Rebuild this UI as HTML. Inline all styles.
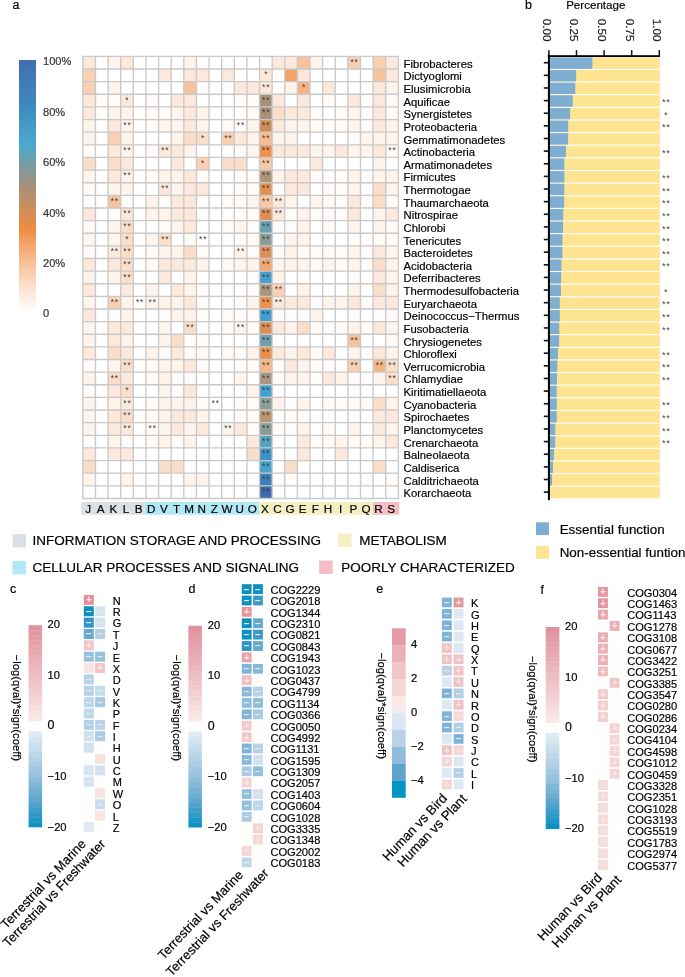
<!DOCTYPE html>
<html lang="en"><head><meta charset="utf-8"><title>Figure</title>
<style>html,body{margin:0;padding:0;background:#fff}svg{display:block}text{font-family:"Liberation Sans", Arial, Helvetica, sans-serif}</style></head><body>
<svg width="685" height="977" viewBox="0 0 685 977">
<rect x="0.00" y="0.00" width="685.00" height="977.00" fill="#ffffff"/>
<text x="12.50" y="9.40" font-size="12.5" fill="#000" stroke="#000" stroke-width="0.18" text-anchor="start">a</text>
<defs><linearGradient id="ga" x1="0" y1="1" x2="0" y2="0"><stop offset="0" stop-color="#ffffff"/><stop offset="0.16" stop-color="#f9cdac"/><stop offset="0.33" stop-color="#f08c42"/><stop offset="0.50" stop-color="#a69078"/><stop offset="0.665" stop-color="#4aa9d0"/><stop offset="0.82" stop-color="#3f89bf"/><stop offset="1" stop-color="#416eb0"/></linearGradient></defs>
<rect x="19.00" y="60.00" width="17.00" height="251.80" fill="url(#ga)"/>
<text x="43.00" y="317.40" font-size="11.1" fill="#333" stroke="#333" stroke-width="0.18" text-anchor="start">0</text>
<text x="43.00" y="267.00" font-size="11.1" fill="#333" stroke="#333" stroke-width="0.18" text-anchor="start">20%</text>
<text x="43.00" y="216.60" font-size="11.1" fill="#333" stroke="#333" stroke-width="0.18" text-anchor="start">40%</text>
<text x="43.00" y="166.20" font-size="11.1" fill="#333" stroke="#333" stroke-width="0.18" text-anchor="start">60%</text>
<text x="43.00" y="115.80" font-size="11.1" fill="#333" stroke="#333" stroke-width="0.18" text-anchor="start">80%</text>
<text x="43.00" y="65.40" font-size="11.1" fill="#333" stroke="#333" stroke-width="0.18" text-anchor="start">100%</text>
<rect x="82.85" y="56.40" width="315.50" height="442.05" fill="#fff"/>
<rect x="82.85" y="56.40" width="12.62" height="12.63" fill="#fce9db"/>
<rect x="108.09" y="56.40" width="12.62" height="12.63" fill="#fef4ec"/>
<rect x="120.71" y="56.40" width="12.62" height="12.63" fill="#fce9db"/>
<rect x="183.81" y="56.40" width="12.62" height="12.63" fill="#fef4ec"/>
<rect x="272.15" y="56.40" width="12.62" height="12.63" fill="#fce9db"/>
<rect x="284.77" y="56.40" width="12.62" height="12.63" fill="#fce9db"/>
<rect x="297.39" y="56.40" width="12.62" height="12.63" fill="#f7c199"/>
<rect x="310.01" y="56.40" width="12.62" height="12.63" fill="#fef4ec"/>
<rect x="347.87" y="56.40" width="12.62" height="12.63" fill="#f9d0b2"/>
<rect x="373.11" y="56.40" width="12.62" height="12.63" fill="#f9d0b2"/>
<rect x="385.73" y="56.40" width="12.62" height="12.63" fill="#fce9db"/>
<rect x="82.85" y="69.03" width="12.62" height="12.63" fill="#f9d0b2"/>
<rect x="158.57" y="69.03" width="12.62" height="12.63" fill="#fce9db"/>
<rect x="183.81" y="69.03" width="12.62" height="12.63" fill="#fce9db"/>
<rect x="196.43" y="69.03" width="12.62" height="12.63" fill="#fce9db"/>
<rect x="221.67" y="69.03" width="12.62" height="12.63" fill="#fce9db"/>
<rect x="259.53" y="69.03" width="12.62" height="12.63" fill="#fde8d9"/>
<rect x="284.77" y="69.03" width="12.62" height="12.63" fill="#f3a368"/>
<rect x="297.39" y="69.03" width="12.62" height="12.63" fill="#fce9db"/>
<rect x="373.11" y="69.03" width="12.62" height="12.63" fill="#f7c199"/>
<rect x="385.73" y="69.03" width="12.62" height="12.63" fill="#fce9db"/>
<rect x="82.85" y="81.66" width="12.62" height="12.63" fill="#f9d0b2"/>
<rect x="108.09" y="81.66" width="12.62" height="12.63" fill="#fef4ec"/>
<rect x="183.81" y="81.66" width="12.62" height="12.63" fill="#f7c199"/>
<rect x="234.29" y="81.66" width="12.62" height="12.63" fill="#fce9db"/>
<rect x="246.91" y="81.66" width="12.62" height="12.63" fill="#fce9db"/>
<rect x="259.53" y="81.66" width="12.62" height="12.63" fill="#fde8d9"/>
<rect x="284.77" y="81.66" width="12.62" height="12.63" fill="#fef4ec"/>
<rect x="297.39" y="81.66" width="12.62" height="12.63" fill="#f5b382"/>
<rect x="322.63" y="81.66" width="12.62" height="12.63" fill="#fce9db"/>
<rect x="373.11" y="81.66" width="12.62" height="12.63" fill="#fce9db"/>
<rect x="385.73" y="81.66" width="12.62" height="12.63" fill="#fef4ec"/>
<rect x="82.85" y="94.29" width="12.62" height="12.63" fill="#fce9db"/>
<rect x="95.47" y="94.29" width="12.62" height="12.63" fill="#fefbf8"/>
<rect x="108.09" y="94.29" width="12.62" height="12.63" fill="#fefbf8"/>
<rect x="120.71" y="94.29" width="12.62" height="12.63" fill="#fce9db"/>
<rect x="145.95" y="94.29" width="12.62" height="12.63" fill="#fefbf8"/>
<rect x="171.19" y="94.29" width="12.62" height="12.63" fill="#fce9db"/>
<rect x="183.81" y="94.29" width="12.62" height="12.63" fill="#fce9db"/>
<rect x="234.29" y="94.29" width="12.62" height="12.63" fill="#fefbf8"/>
<rect x="246.91" y="94.29" width="12.62" height="12.63" fill="#fefbf8"/>
<rect x="259.53" y="94.29" width="12.62" height="12.63" fill="#a8917a"/>
<rect x="272.15" y="94.29" width="12.62" height="12.63" fill="#fce9db"/>
<rect x="297.39" y="94.29" width="12.62" height="12.63" fill="#fce9db"/>
<rect x="322.63" y="94.29" width="12.62" height="12.63" fill="#fefbf8"/>
<rect x="347.87" y="94.29" width="12.62" height="12.63" fill="#fce9db"/>
<rect x="373.11" y="94.29" width="12.62" height="12.63" fill="#fce9db"/>
<rect x="385.73" y="94.29" width="12.62" height="12.63" fill="#fefbf8"/>
<rect x="82.85" y="106.92" width="12.62" height="12.63" fill="#fce9db"/>
<rect x="108.09" y="106.92" width="12.62" height="12.63" fill="#fef4ec"/>
<rect x="120.71" y="106.92" width="12.62" height="12.63" fill="#fef4ec"/>
<rect x="145.95" y="106.92" width="12.62" height="12.63" fill="#fefbf8"/>
<rect x="158.57" y="106.92" width="12.62" height="12.63" fill="#fefbf8"/>
<rect x="171.19" y="106.92" width="12.62" height="12.63" fill="#fef4ec"/>
<rect x="183.81" y="106.92" width="12.62" height="12.63" fill="#fce9db"/>
<rect x="196.43" y="106.92" width="12.62" height="12.63" fill="#fef4ec"/>
<rect x="246.91" y="106.92" width="12.62" height="12.63" fill="#fefbf8"/>
<rect x="259.53" y="106.92" width="12.62" height="12.63" fill="#a8917a"/>
<rect x="272.15" y="106.92" width="12.62" height="12.63" fill="#fbdec8"/>
<rect x="284.77" y="106.92" width="12.62" height="12.63" fill="#fce9db"/>
<rect x="297.39" y="106.92" width="12.62" height="12.63" fill="#fce9db"/>
<rect x="310.01" y="106.92" width="12.62" height="12.63" fill="#fefbf8"/>
<rect x="335.25" y="106.92" width="12.62" height="12.63" fill="#fefbf8"/>
<rect x="347.87" y="106.92" width="12.62" height="12.63" fill="#fef4ec"/>
<rect x="360.49" y="106.92" width="12.62" height="12.63" fill="#fefbf8"/>
<rect x="373.11" y="106.92" width="12.62" height="12.63" fill="#fce9db"/>
<rect x="385.73" y="106.92" width="12.62" height="12.63" fill="#fefbf8"/>
<rect x="82.85" y="119.55" width="12.62" height="12.63" fill="#fef4ec"/>
<rect x="108.09" y="119.55" width="12.62" height="12.63" fill="#fce9db"/>
<rect x="120.71" y="119.55" width="12.62" height="12.63" fill="#fef4ec"/>
<rect x="145.95" y="119.55" width="12.62" height="12.63" fill="#fefbf8"/>
<rect x="158.57" y="119.55" width="12.62" height="12.63" fill="#fef4ec"/>
<rect x="171.19" y="119.55" width="12.62" height="12.63" fill="#fef4ec"/>
<rect x="183.81" y="119.55" width="12.62" height="12.63" fill="#fce9db"/>
<rect x="196.43" y="119.55" width="12.62" height="12.63" fill="#fef4ec"/>
<rect x="221.67" y="119.55" width="12.62" height="12.63" fill="#fefbf8"/>
<rect x="234.29" y="119.55" width="12.62" height="12.63" fill="#fefbf8"/>
<rect x="246.91" y="119.55" width="12.62" height="12.63" fill="#fef4ec"/>
<rect x="259.53" y="119.55" width="12.62" height="12.63" fill="#cf8c55"/>
<rect x="272.15" y="119.55" width="12.62" height="12.63" fill="#fce9db"/>
<rect x="284.77" y="119.55" width="12.62" height="12.63" fill="#fef4ec"/>
<rect x="297.39" y="119.55" width="12.62" height="12.63" fill="#fef4ec"/>
<rect x="310.01" y="119.55" width="12.62" height="12.63" fill="#fefbf8"/>
<rect x="322.63" y="119.55" width="12.62" height="12.63" fill="#fefbf8"/>
<rect x="335.25" y="119.55" width="12.62" height="12.63" fill="#fefbf8"/>
<rect x="347.87" y="119.55" width="12.62" height="12.63" fill="#fef4ec"/>
<rect x="360.49" y="119.55" width="12.62" height="12.63" fill="#fefbf8"/>
<rect x="373.11" y="119.55" width="12.62" height="12.63" fill="#fce9db"/>
<rect x="385.73" y="119.55" width="12.62" height="12.63" fill="#fef4ec"/>
<rect x="82.85" y="132.18" width="12.62" height="12.63" fill="#fef4ec"/>
<rect x="108.09" y="132.18" width="12.62" height="12.63" fill="#f9d0b2"/>
<rect x="120.71" y="132.18" width="12.62" height="12.63" fill="#fef4ec"/>
<rect x="171.19" y="132.18" width="12.62" height="12.63" fill="#fef4ec"/>
<rect x="183.81" y="132.18" width="12.62" height="12.63" fill="#fbdec8"/>
<rect x="196.43" y="132.18" width="12.62" height="12.63" fill="#fbdec8"/>
<rect x="221.67" y="132.18" width="12.62" height="12.63" fill="#f9d0b2"/>
<rect x="234.29" y="132.18" width="12.62" height="12.63" fill="#fce9db"/>
<rect x="246.91" y="132.18" width="12.62" height="12.63" fill="#fef4ec"/>
<rect x="259.53" y="132.18" width="12.62" height="12.63" fill="#f8bb91"/>
<rect x="272.15" y="132.18" width="12.62" height="12.63" fill="#fef4ec"/>
<rect x="284.77" y="132.18" width="12.62" height="12.63" fill="#fef4ec"/>
<rect x="347.87" y="132.18" width="12.62" height="12.63" fill="#fefbf8"/>
<rect x="360.49" y="132.18" width="12.62" height="12.63" fill="#fef4ec"/>
<rect x="373.11" y="132.18" width="12.62" height="12.63" fill="#fef4ec"/>
<rect x="385.73" y="132.18" width="12.62" height="12.63" fill="#fef4ec"/>
<rect x="82.85" y="144.81" width="12.62" height="12.63" fill="#fefbf8"/>
<rect x="108.09" y="144.81" width="12.62" height="12.63" fill="#fce9db"/>
<rect x="120.71" y="144.81" width="12.62" height="12.63" fill="#fef4ec"/>
<rect x="145.95" y="144.81" width="12.62" height="12.63" fill="#fefbf8"/>
<rect x="158.57" y="144.81" width="12.62" height="12.63" fill="#fce9db"/>
<rect x="171.19" y="144.81" width="12.62" height="12.63" fill="#fce9db"/>
<rect x="183.81" y="144.81" width="12.62" height="12.63" fill="#fef4ec"/>
<rect x="234.29" y="144.81" width="12.62" height="12.63" fill="#fefbf8"/>
<rect x="246.91" y="144.81" width="12.62" height="12.63" fill="#fef4ec"/>
<rect x="259.53" y="144.81" width="12.62" height="12.63" fill="#f09048"/>
<rect x="272.15" y="144.81" width="12.62" height="12.63" fill="#fce9db"/>
<rect x="284.77" y="144.81" width="12.62" height="12.63" fill="#fce9db"/>
<rect x="297.39" y="144.81" width="12.62" height="12.63" fill="#fce9db"/>
<rect x="310.01" y="144.81" width="12.62" height="12.63" fill="#fef4ec"/>
<rect x="322.63" y="144.81" width="12.62" height="12.63" fill="#fef4ec"/>
<rect x="335.25" y="144.81" width="12.62" height="12.63" fill="#fce9db"/>
<rect x="347.87" y="144.81" width="12.62" height="12.63" fill="#fef4ec"/>
<rect x="360.49" y="144.81" width="12.62" height="12.63" fill="#fef4ec"/>
<rect x="373.11" y="144.81" width="12.62" height="12.63" fill="#fce9db"/>
<rect x="385.73" y="144.81" width="12.62" height="12.63" fill="#fefbf8"/>
<rect x="82.85" y="157.44" width="12.62" height="12.63" fill="#fbdec8"/>
<rect x="108.09" y="157.44" width="12.62" height="12.63" fill="#fbdec8"/>
<rect x="120.71" y="157.44" width="12.62" height="12.63" fill="#fce9db"/>
<rect x="171.19" y="157.44" width="12.62" height="12.63" fill="#fce9db"/>
<rect x="196.43" y="157.44" width="12.62" height="12.63" fill="#f9d0b2"/>
<rect x="221.67" y="157.44" width="12.62" height="12.63" fill="#fbdec8"/>
<rect x="234.29" y="157.44" width="12.62" height="12.63" fill="#fbdec8"/>
<rect x="259.53" y="157.44" width="12.62" height="12.63" fill="#f9c8a6"/>
<rect x="310.01" y="157.44" width="12.62" height="12.63" fill="#fce9db"/>
<rect x="373.11" y="157.44" width="12.62" height="12.63" fill="#fef4ec"/>
<rect x="82.85" y="170.07" width="12.62" height="12.63" fill="#fef4ec"/>
<rect x="108.09" y="170.07" width="12.62" height="12.63" fill="#fce9db"/>
<rect x="120.71" y="170.07" width="12.62" height="12.63" fill="#fef4ec"/>
<rect x="145.95" y="170.07" width="12.62" height="12.63" fill="#fefbf8"/>
<rect x="158.57" y="170.07" width="12.62" height="12.63" fill="#fef4ec"/>
<rect x="171.19" y="170.07" width="12.62" height="12.63" fill="#fef4ec"/>
<rect x="183.81" y="170.07" width="12.62" height="12.63" fill="#fce9db"/>
<rect x="196.43" y="170.07" width="12.62" height="12.63" fill="#fefbf8"/>
<rect x="234.29" y="170.07" width="12.62" height="12.63" fill="#fefbf8"/>
<rect x="246.91" y="170.07" width="12.62" height="12.63" fill="#fefbf8"/>
<rect x="259.53" y="170.07" width="12.62" height="12.63" fill="#ab9579"/>
<rect x="272.15" y="170.07" width="12.62" height="12.63" fill="#fef4ec"/>
<rect x="284.77" y="170.07" width="12.62" height="12.63" fill="#fce9db"/>
<rect x="297.39" y="170.07" width="12.62" height="12.63" fill="#fce9db"/>
<rect x="310.01" y="170.07" width="12.62" height="12.63" fill="#fefbf8"/>
<rect x="322.63" y="170.07" width="12.62" height="12.63" fill="#fefbf8"/>
<rect x="335.25" y="170.07" width="12.62" height="12.63" fill="#fefbf8"/>
<rect x="347.87" y="170.07" width="12.62" height="12.63" fill="#fef4ec"/>
<rect x="360.49" y="170.07" width="12.62" height="12.63" fill="#fefbf8"/>
<rect x="373.11" y="170.07" width="12.62" height="12.63" fill="#fef4ec"/>
<rect x="385.73" y="170.07" width="12.62" height="12.63" fill="#fef4ec"/>
<rect x="82.85" y="182.70" width="12.62" height="12.63" fill="#fefbf8"/>
<rect x="108.09" y="182.70" width="12.62" height="12.63" fill="#fef4ec"/>
<rect x="120.71" y="182.70" width="12.62" height="12.63" fill="#fef4ec"/>
<rect x="158.57" y="182.70" width="12.62" height="12.63" fill="#fce9db"/>
<rect x="171.19" y="182.70" width="12.62" height="12.63" fill="#fef4ec"/>
<rect x="183.81" y="182.70" width="12.62" height="12.63" fill="#fce9db"/>
<rect x="196.43" y="182.70" width="12.62" height="12.63" fill="#fce9db"/>
<rect x="234.29" y="182.70" width="12.62" height="12.63" fill="#fefbf8"/>
<rect x="246.91" y="182.70" width="12.62" height="12.63" fill="#fefbf8"/>
<rect x="259.53" y="182.70" width="12.62" height="12.63" fill="#e38f4f"/>
<rect x="272.15" y="182.70" width="12.62" height="12.63" fill="#fefbf8"/>
<rect x="284.77" y="182.70" width="12.62" height="12.63" fill="#fce9db"/>
<rect x="297.39" y="182.70" width="12.62" height="12.63" fill="#fce9db"/>
<rect x="322.63" y="182.70" width="12.62" height="12.63" fill="#fefbf8"/>
<rect x="335.25" y="182.70" width="12.62" height="12.63" fill="#fefbf8"/>
<rect x="347.87" y="182.70" width="12.62" height="12.63" fill="#fef4ec"/>
<rect x="360.49" y="182.70" width="12.62" height="12.63" fill="#fefbf8"/>
<rect x="373.11" y="182.70" width="12.62" height="12.63" fill="#fbdec8"/>
<rect x="385.73" y="182.70" width="12.62" height="12.63" fill="#fef4ec"/>
<rect x="82.85" y="195.33" width="12.62" height="12.63" fill="#fefbf8"/>
<rect x="108.09" y="195.33" width="12.62" height="12.63" fill="#f7c199"/>
<rect x="120.71" y="195.33" width="12.62" height="12.63" fill="#fefbf8"/>
<rect x="145.95" y="195.33" width="12.62" height="12.63" fill="#fef4ec"/>
<rect x="158.57" y="195.33" width="12.62" height="12.63" fill="#fefbf8"/>
<rect x="171.19" y="195.33" width="12.62" height="12.63" fill="#fce9db"/>
<rect x="183.81" y="195.33" width="12.62" height="12.63" fill="#fce9db"/>
<rect x="196.43" y="195.33" width="12.62" height="12.63" fill="#fefbf8"/>
<rect x="221.67" y="195.33" width="12.62" height="12.63" fill="#fefbf8"/>
<rect x="234.29" y="195.33" width="12.62" height="12.63" fill="#fefbf8"/>
<rect x="246.91" y="195.33" width="12.62" height="12.63" fill="#fef4ec"/>
<rect x="259.53" y="195.33" width="12.62" height="12.63" fill="#f9c8a5"/>
<rect x="272.15" y="195.33" width="12.62" height="12.63" fill="#fce9db"/>
<rect x="284.77" y="195.33" width="12.62" height="12.63" fill="#fef4ec"/>
<rect x="297.39" y="195.33" width="12.62" height="12.63" fill="#fefbf8"/>
<rect x="310.01" y="195.33" width="12.62" height="12.63" fill="#fef4ec"/>
<rect x="322.63" y="195.33" width="12.62" height="12.63" fill="#fefbf8"/>
<rect x="335.25" y="195.33" width="12.62" height="12.63" fill="#fefbf8"/>
<rect x="347.87" y="195.33" width="12.62" height="12.63" fill="#fce9db"/>
<rect x="360.49" y="195.33" width="12.62" height="12.63" fill="#fefbf8"/>
<rect x="373.11" y="195.33" width="12.62" height="12.63" fill="#fbdec8"/>
<rect x="385.73" y="195.33" width="12.62" height="12.63" fill="#fefbf8"/>
<rect x="82.85" y="207.96" width="12.62" height="12.63" fill="#fce9db"/>
<rect x="108.09" y="207.96" width="12.62" height="12.63" fill="#fefbf8"/>
<rect x="120.71" y="207.96" width="12.62" height="12.63" fill="#fce9db"/>
<rect x="145.95" y="207.96" width="12.62" height="12.63" fill="#fef4ec"/>
<rect x="158.57" y="207.96" width="12.62" height="12.63" fill="#fef4ec"/>
<rect x="171.19" y="207.96" width="12.62" height="12.63" fill="#fce9db"/>
<rect x="183.81" y="207.96" width="12.62" height="12.63" fill="#fce9db"/>
<rect x="196.43" y="207.96" width="12.62" height="12.63" fill="#fefbf8"/>
<rect x="234.29" y="207.96" width="12.62" height="12.63" fill="#fefbf8"/>
<rect x="246.91" y="207.96" width="12.62" height="12.63" fill="#fefbf8"/>
<rect x="259.53" y="207.96" width="12.62" height="12.63" fill="#de8f55"/>
<rect x="272.15" y="207.96" width="12.62" height="12.63" fill="#fce9db"/>
<rect x="284.77" y="207.96" width="12.62" height="12.63" fill="#fefbf8"/>
<rect x="297.39" y="207.96" width="12.62" height="12.63" fill="#fef4ec"/>
<rect x="310.01" y="207.96" width="12.62" height="12.63" fill="#fefbf8"/>
<rect x="322.63" y="207.96" width="12.62" height="12.63" fill="#fefbf8"/>
<rect x="335.25" y="207.96" width="12.62" height="12.63" fill="#fefbf8"/>
<rect x="347.87" y="207.96" width="12.62" height="12.63" fill="#fce9db"/>
<rect x="373.11" y="207.96" width="12.62" height="12.63" fill="#fef4ec"/>
<rect x="385.73" y="207.96" width="12.62" height="12.63" fill="#fce9db"/>
<rect x="82.85" y="220.59" width="12.62" height="12.63" fill="#fefbf8"/>
<rect x="108.09" y="220.59" width="12.62" height="12.63" fill="#fef4ec"/>
<rect x="120.71" y="220.59" width="12.62" height="12.63" fill="#fbdec8"/>
<rect x="158.57" y="220.59" width="12.62" height="12.63" fill="#fefbf8"/>
<rect x="171.19" y="220.59" width="12.62" height="12.63" fill="#fef4ec"/>
<rect x="183.81" y="220.59" width="12.62" height="12.63" fill="#fce9db"/>
<rect x="221.67" y="220.59" width="12.62" height="12.63" fill="#fefbf8"/>
<rect x="234.29" y="220.59" width="12.62" height="12.63" fill="#fef4ec"/>
<rect x="246.91" y="220.59" width="12.62" height="12.63" fill="#fefbf8"/>
<rect x="259.53" y="220.59" width="12.62" height="12.63" fill="#6a9fb3"/>
<rect x="272.15" y="220.59" width="12.62" height="12.63" fill="#fefbf8"/>
<rect x="284.77" y="220.59" width="12.62" height="12.63" fill="#fefbf8"/>
<rect x="297.39" y="220.59" width="12.62" height="12.63" fill="#fef4ec"/>
<rect x="322.63" y="220.59" width="12.62" height="12.63" fill="#fefbf8"/>
<rect x="347.87" y="220.59" width="12.62" height="12.63" fill="#fef4ec"/>
<rect x="373.11" y="220.59" width="12.62" height="12.63" fill="#fef4ec"/>
<rect x="385.73" y="220.59" width="12.62" height="12.63" fill="#fefbf8"/>
<rect x="82.85" y="233.22" width="12.62" height="12.63" fill="#fef4ec"/>
<rect x="108.09" y="233.22" width="12.62" height="12.63" fill="#fef4ec"/>
<rect x="120.71" y="233.22" width="12.62" height="12.63" fill="#fbdec8"/>
<rect x="145.95" y="233.22" width="12.62" height="12.63" fill="#fef4ec"/>
<rect x="158.57" y="233.22" width="12.62" height="12.63" fill="#fbdec8"/>
<rect x="183.81" y="233.22" width="12.62" height="12.63" fill="#fefbf8"/>
<rect x="234.29" y="233.22" width="12.62" height="12.63" fill="#fefbf8"/>
<rect x="246.91" y="233.22" width="12.62" height="12.63" fill="#fefbf8"/>
<rect x="259.53" y="233.22" width="12.62" height="12.63" fill="#8a9a94"/>
<rect x="284.77" y="233.22" width="12.62" height="12.63" fill="#fef4ec"/>
<rect x="297.39" y="233.22" width="12.62" height="12.63" fill="#fef4ec"/>
<rect x="347.87" y="233.22" width="12.62" height="12.63" fill="#fefbf8"/>
<rect x="373.11" y="233.22" width="12.62" height="12.63" fill="#fefbf8"/>
<rect x="385.73" y="233.22" width="12.62" height="12.63" fill="#fefbf8"/>
<rect x="82.85" y="245.85" width="12.62" height="12.63" fill="#fefbf8"/>
<rect x="108.09" y="245.85" width="12.62" height="12.63" fill="#fce9db"/>
<rect x="120.71" y="245.85" width="12.62" height="12.63" fill="#fbdec8"/>
<rect x="145.95" y="245.85" width="12.62" height="12.63" fill="#fefbf8"/>
<rect x="158.57" y="245.85" width="12.62" height="12.63" fill="#fef4ec"/>
<rect x="171.19" y="245.85" width="12.62" height="12.63" fill="#fef4ec"/>
<rect x="183.81" y="245.85" width="12.62" height="12.63" fill="#fbdec8"/>
<rect x="196.43" y="245.85" width="12.62" height="12.63" fill="#fefbf8"/>
<rect x="234.29" y="245.85" width="12.62" height="12.63" fill="#fef4ec"/>
<rect x="246.91" y="245.85" width="12.62" height="12.63" fill="#fefbf8"/>
<rect x="259.53" y="245.85" width="12.62" height="12.63" fill="#dc8f57"/>
<rect x="272.15" y="245.85" width="12.62" height="12.63" fill="#fefbf8"/>
<rect x="284.77" y="245.85" width="12.62" height="12.63" fill="#fef4ec"/>
<rect x="297.39" y="245.85" width="12.62" height="12.63" fill="#fefbf8"/>
<rect x="310.01" y="245.85" width="12.62" height="12.63" fill="#fefbf8"/>
<rect x="322.63" y="245.85" width="12.62" height="12.63" fill="#fefbf8"/>
<rect x="335.25" y="245.85" width="12.62" height="12.63" fill="#fefbf8"/>
<rect x="347.87" y="245.85" width="12.62" height="12.63" fill="#fef4ec"/>
<rect x="360.49" y="245.85" width="12.62" height="12.63" fill="#fefbf8"/>
<rect x="373.11" y="245.85" width="12.62" height="12.63" fill="#fce9db"/>
<rect x="385.73" y="245.85" width="12.62" height="12.63" fill="#fef4ec"/>
<rect x="82.85" y="258.48" width="12.62" height="12.63" fill="#fce9db"/>
<rect x="108.09" y="258.48" width="12.62" height="12.63" fill="#fce9db"/>
<rect x="120.71" y="258.48" width="12.62" height="12.63" fill="#fbdec8"/>
<rect x="145.95" y="258.48" width="12.62" height="12.63" fill="#fefbf8"/>
<rect x="158.57" y="258.48" width="12.62" height="12.63" fill="#fce9db"/>
<rect x="171.19" y="258.48" width="12.62" height="12.63" fill="#fce9db"/>
<rect x="183.81" y="258.48" width="12.62" height="12.63" fill="#fce9db"/>
<rect x="196.43" y="258.48" width="12.62" height="12.63" fill="#fef4ec"/>
<rect x="221.67" y="258.48" width="12.62" height="12.63" fill="#fefbf8"/>
<rect x="234.29" y="258.48" width="12.62" height="12.63" fill="#fef4ec"/>
<rect x="246.91" y="258.48" width="12.62" height="12.63" fill="#fef4ec"/>
<rect x="259.53" y="258.48" width="12.62" height="12.63" fill="#f4a76c"/>
<rect x="272.15" y="258.48" width="12.62" height="12.63" fill="#fef4ec"/>
<rect x="284.77" y="258.48" width="12.62" height="12.63" fill="#fef4ec"/>
<rect x="297.39" y="258.48" width="12.62" height="12.63" fill="#fef4ec"/>
<rect x="310.01" y="258.48" width="12.62" height="12.63" fill="#fefbf8"/>
<rect x="322.63" y="258.48" width="12.62" height="12.63" fill="#fef4ec"/>
<rect x="335.25" y="258.48" width="12.62" height="12.63" fill="#fefbf8"/>
<rect x="347.87" y="258.48" width="12.62" height="12.63" fill="#fef4ec"/>
<rect x="360.49" y="258.48" width="12.62" height="12.63" fill="#fefbf8"/>
<rect x="373.11" y="258.48" width="12.62" height="12.63" fill="#fbdec8"/>
<rect x="385.73" y="258.48" width="12.62" height="12.63" fill="#fef4ec"/>
<rect x="82.85" y="271.11" width="12.62" height="12.63" fill="#fef4ec"/>
<rect x="108.09" y="271.11" width="12.62" height="12.63" fill="#fef4ec"/>
<rect x="120.71" y="271.11" width="12.62" height="12.63" fill="#fbdec8"/>
<rect x="158.57" y="271.11" width="12.62" height="12.63" fill="#fce9db"/>
<rect x="183.81" y="271.11" width="12.62" height="12.63" fill="#fef4ec"/>
<rect x="246.91" y="271.11" width="12.62" height="12.63" fill="#fefbf8"/>
<rect x="259.53" y="271.11" width="12.62" height="12.63" fill="#45a0cd"/>
<rect x="272.15" y="271.11" width="12.62" height="12.63" fill="#fef4ec"/>
<rect x="347.87" y="271.11" width="12.62" height="12.63" fill="#fefbf8"/>
<rect x="373.11" y="271.11" width="12.62" height="12.63" fill="#fce9db"/>
<rect x="385.73" y="271.11" width="12.62" height="12.63" fill="#fef4ec"/>
<rect x="82.85" y="283.74" width="12.62" height="12.63" fill="#fce9db"/>
<rect x="120.71" y="283.74" width="12.62" height="12.63" fill="#fce9db"/>
<rect x="145.95" y="283.74" width="12.62" height="12.63" fill="#fef4ec"/>
<rect x="171.19" y="283.74" width="12.62" height="12.63" fill="#fce9db"/>
<rect x="183.81" y="283.74" width="12.62" height="12.63" fill="#fef4ec"/>
<rect x="196.43" y="283.74" width="12.62" height="12.63" fill="#fefbf8"/>
<rect x="246.91" y="283.74" width="12.62" height="12.63" fill="#fefbf8"/>
<rect x="259.53" y="283.74" width="12.62" height="12.63" fill="#a8957d"/>
<rect x="272.15" y="283.74" width="12.62" height="12.63" fill="#f9d0b2"/>
<rect x="297.39" y="283.74" width="12.62" height="12.63" fill="#fef4ec"/>
<rect x="347.87" y="283.74" width="12.62" height="12.63" fill="#fef4ec"/>
<rect x="373.11" y="283.74" width="12.62" height="12.63" fill="#fbdec8"/>
<rect x="385.73" y="283.74" width="12.62" height="12.63" fill="#fef4ec"/>
<rect x="82.85" y="296.37" width="12.62" height="12.63" fill="#fef4ec"/>
<rect x="108.09" y="296.37" width="12.62" height="12.63" fill="#f9d0b2"/>
<rect x="120.71" y="296.37" width="12.62" height="12.63" fill="#fef4ec"/>
<rect x="133.33" y="296.37" width="12.62" height="12.63" fill="#fefbf8"/>
<rect x="145.95" y="296.37" width="12.62" height="12.63" fill="#fef4ec"/>
<rect x="158.57" y="296.37" width="12.62" height="12.63" fill="#fef4ec"/>
<rect x="171.19" y="296.37" width="12.62" height="12.63" fill="#fef4ec"/>
<rect x="183.81" y="296.37" width="12.62" height="12.63" fill="#fce9db"/>
<rect x="196.43" y="296.37" width="12.62" height="12.63" fill="#fefbf8"/>
<rect x="234.29" y="296.37" width="12.62" height="12.63" fill="#fefbf8"/>
<rect x="246.91" y="296.37" width="12.62" height="12.63" fill="#fef4ec"/>
<rect x="259.53" y="296.37" width="12.62" height="12.63" fill="#ee914d"/>
<rect x="272.15" y="296.37" width="12.62" height="12.63" fill="#fce9db"/>
<rect x="284.77" y="296.37" width="12.62" height="12.63" fill="#fce9db"/>
<rect x="297.39" y="296.37" width="12.62" height="12.63" fill="#fce9db"/>
<rect x="310.01" y="296.37" width="12.62" height="12.63" fill="#fefbf8"/>
<rect x="322.63" y="296.37" width="12.62" height="12.63" fill="#fef4ec"/>
<rect x="335.25" y="296.37" width="12.62" height="12.63" fill="#fef4ec"/>
<rect x="347.87" y="296.37" width="12.62" height="12.63" fill="#fce9db"/>
<rect x="360.49" y="296.37" width="12.62" height="12.63" fill="#fefbf8"/>
<rect x="373.11" y="296.37" width="12.62" height="12.63" fill="#fce9db"/>
<rect x="385.73" y="296.37" width="12.62" height="12.63" fill="#fce9db"/>
<rect x="82.85" y="309.00" width="12.62" height="12.63" fill="#fce9db"/>
<rect x="108.09" y="309.00" width="12.62" height="12.63" fill="#fefbf8"/>
<rect x="120.71" y="309.00" width="12.62" height="12.63" fill="#fef4ec"/>
<rect x="158.57" y="309.00" width="12.62" height="12.63" fill="#fefbf8"/>
<rect x="171.19" y="309.00" width="12.62" height="12.63" fill="#fef4ec"/>
<rect x="183.81" y="309.00" width="12.62" height="12.63" fill="#fef4ec"/>
<rect x="196.43" y="309.00" width="12.62" height="12.63" fill="#fefbf8"/>
<rect x="221.67" y="309.00" width="12.62" height="12.63" fill="#fefbf8"/>
<rect x="234.29" y="309.00" width="12.62" height="12.63" fill="#fefbf8"/>
<rect x="246.91" y="309.00" width="12.62" height="12.63" fill="#fefbf8"/>
<rect x="259.53" y="309.00" width="12.62" height="12.63" fill="#42a0cf"/>
<rect x="272.15" y="309.00" width="12.62" height="12.63" fill="#fefbf8"/>
<rect x="284.77" y="309.00" width="12.62" height="12.63" fill="#fefbf8"/>
<rect x="297.39" y="309.00" width="12.62" height="12.63" fill="#fefbf8"/>
<rect x="310.01" y="309.00" width="12.62" height="12.63" fill="#fef4ec"/>
<rect x="347.87" y="309.00" width="12.62" height="12.63" fill="#fefbf8"/>
<rect x="373.11" y="309.00" width="12.62" height="12.63" fill="#fefbf8"/>
<rect x="385.73" y="309.00" width="12.62" height="12.63" fill="#fefbf8"/>
<rect x="82.85" y="321.63" width="12.62" height="12.63" fill="#fef4ec"/>
<rect x="108.09" y="321.63" width="12.62" height="12.63" fill="#fce9db"/>
<rect x="120.71" y="321.63" width="12.62" height="12.63" fill="#fce9db"/>
<rect x="158.57" y="321.63" width="12.62" height="12.63" fill="#fef4ec"/>
<rect x="183.81" y="321.63" width="12.62" height="12.63" fill="#fbdec8"/>
<rect x="221.67" y="321.63" width="12.62" height="12.63" fill="#fefbf8"/>
<rect x="234.29" y="321.63" width="12.62" height="12.63" fill="#fef4ec"/>
<rect x="246.91" y="321.63" width="12.62" height="12.63" fill="#fefbf8"/>
<rect x="259.53" y="321.63" width="12.62" height="12.63" fill="#dc8d55"/>
<rect x="272.15" y="321.63" width="12.62" height="12.63" fill="#fce9db"/>
<rect x="284.77" y="321.63" width="12.62" height="12.63" fill="#fef4ec"/>
<rect x="297.39" y="321.63" width="12.62" height="12.63" fill="#fbdec8"/>
<rect x="310.01" y="321.63" width="12.62" height="12.63" fill="#fefbf8"/>
<rect x="322.63" y="321.63" width="12.62" height="12.63" fill="#fefbf8"/>
<rect x="335.25" y="321.63" width="12.62" height="12.63" fill="#fefbf8"/>
<rect x="347.87" y="321.63" width="12.62" height="12.63" fill="#fef4ec"/>
<rect x="360.49" y="321.63" width="12.62" height="12.63" fill="#fefbf8"/>
<rect x="373.11" y="321.63" width="12.62" height="12.63" fill="#fce9db"/>
<rect x="385.73" y="321.63" width="12.62" height="12.63" fill="#fef4ec"/>
<rect x="82.85" y="334.26" width="12.62" height="12.63" fill="#fef4ec"/>
<rect x="108.09" y="334.26" width="12.62" height="12.63" fill="#fce9db"/>
<rect x="120.71" y="334.26" width="12.62" height="12.63" fill="#fef4ec"/>
<rect x="158.57" y="334.26" width="12.62" height="12.63" fill="#fef4ec"/>
<rect x="171.19" y="334.26" width="12.62" height="12.63" fill="#fbdec8"/>
<rect x="196.43" y="334.26" width="12.62" height="12.63" fill="#fefbf8"/>
<rect x="259.53" y="334.26" width="12.62" height="12.63" fill="#729fae"/>
<rect x="347.87" y="334.26" width="12.62" height="12.63" fill="#f7c199"/>
<rect x="385.73" y="334.26" width="12.62" height="12.63" fill="#fefbf8"/>
<rect x="82.85" y="346.89" width="12.62" height="12.63" fill="#fce9db"/>
<rect x="108.09" y="346.89" width="12.62" height="12.63" fill="#fbdec8"/>
<rect x="120.71" y="346.89" width="12.62" height="12.63" fill="#fce9db"/>
<rect x="145.95" y="346.89" width="12.62" height="12.63" fill="#fef4ec"/>
<rect x="158.57" y="346.89" width="12.62" height="12.63" fill="#fefbf8"/>
<rect x="171.19" y="346.89" width="12.62" height="12.63" fill="#fce9db"/>
<rect x="183.81" y="346.89" width="12.62" height="12.63" fill="#fefbf8"/>
<rect x="196.43" y="346.89" width="12.62" height="12.63" fill="#fefbf8"/>
<rect x="221.67" y="346.89" width="12.62" height="12.63" fill="#fefbf8"/>
<rect x="234.29" y="346.89" width="12.62" height="12.63" fill="#fefbf8"/>
<rect x="246.91" y="346.89" width="12.62" height="12.63" fill="#fef4ec"/>
<rect x="259.53" y="346.89" width="12.62" height="12.63" fill="#ee8f4b"/>
<rect x="272.15" y="346.89" width="12.62" height="12.63" fill="#fce9db"/>
<rect x="284.77" y="346.89" width="12.62" height="12.63" fill="#fef4ec"/>
<rect x="297.39" y="346.89" width="12.62" height="12.63" fill="#fce9db"/>
<rect x="310.01" y="346.89" width="12.62" height="12.63" fill="#fefbf8"/>
<rect x="322.63" y="346.89" width="12.62" height="12.63" fill="#fce9db"/>
<rect x="347.87" y="346.89" width="12.62" height="12.63" fill="#fef4ec"/>
<rect x="360.49" y="346.89" width="12.62" height="12.63" fill="#fefbf8"/>
<rect x="373.11" y="346.89" width="12.62" height="12.63" fill="#fce9db"/>
<rect x="385.73" y="346.89" width="12.62" height="12.63" fill="#fef4ec"/>
<rect x="82.85" y="359.52" width="12.62" height="12.63" fill="#fefbf8"/>
<rect x="108.09" y="359.52" width="12.62" height="12.63" fill="#fef4ec"/>
<rect x="120.71" y="359.52" width="12.62" height="12.63" fill="#fbdec8"/>
<rect x="145.95" y="359.52" width="12.62" height="12.63" fill="#fefbf8"/>
<rect x="158.57" y="359.52" width="12.62" height="12.63" fill="#fef4ec"/>
<rect x="171.19" y="359.52" width="12.62" height="12.63" fill="#fef4ec"/>
<rect x="183.81" y="359.52" width="12.62" height="12.63" fill="#fce9db"/>
<rect x="196.43" y="359.52" width="12.62" height="12.63" fill="#fefbf8"/>
<rect x="234.29" y="359.52" width="12.62" height="12.63" fill="#fefbf8"/>
<rect x="246.91" y="359.52" width="12.62" height="12.63" fill="#fefbf8"/>
<rect x="259.53" y="359.52" width="12.62" height="12.63" fill="#f6b685"/>
<rect x="272.15" y="359.52" width="12.62" height="12.63" fill="#fefbf8"/>
<rect x="284.77" y="359.52" width="12.62" height="12.63" fill="#fce9db"/>
<rect x="297.39" y="359.52" width="12.62" height="12.63" fill="#fef4ec"/>
<rect x="310.01" y="359.52" width="12.62" height="12.63" fill="#fefbf8"/>
<rect x="322.63" y="359.52" width="12.62" height="12.63" fill="#fefbf8"/>
<rect x="347.87" y="359.52" width="12.62" height="12.63" fill="#f9d0b2"/>
<rect x="373.11" y="359.52" width="12.62" height="12.63" fill="#f5b382"/>
<rect x="385.73" y="359.52" width="12.62" height="12.63" fill="#fbdec8"/>
<rect x="82.85" y="372.15" width="12.62" height="12.63" fill="#fef4ec"/>
<rect x="108.09" y="372.15" width="12.62" height="12.63" fill="#fbdec8"/>
<rect x="120.71" y="372.15" width="12.62" height="12.63" fill="#fce9db"/>
<rect x="145.95" y="372.15" width="12.62" height="12.63" fill="#fefbf8"/>
<rect x="158.57" y="372.15" width="12.62" height="12.63" fill="#fef4ec"/>
<rect x="171.19" y="372.15" width="12.62" height="12.63" fill="#fefbf8"/>
<rect x="183.81" y="372.15" width="12.62" height="12.63" fill="#fefbf8"/>
<rect x="234.29" y="372.15" width="12.62" height="12.63" fill="#fef4ec"/>
<rect x="259.53" y="372.15" width="12.62" height="12.63" fill="#a8977f"/>
<rect x="272.15" y="372.15" width="12.62" height="12.63" fill="#fefbf8"/>
<rect x="284.77" y="372.15" width="12.62" height="12.63" fill="#fef4ec"/>
<rect x="297.39" y="372.15" width="12.62" height="12.63" fill="#fef4ec"/>
<rect x="310.01" y="372.15" width="12.62" height="12.63" fill="#fefbf8"/>
<rect x="322.63" y="372.15" width="12.62" height="12.63" fill="#fce9db"/>
<rect x="335.25" y="372.15" width="12.62" height="12.63" fill="#fef4ec"/>
<rect x="347.87" y="372.15" width="12.62" height="12.63" fill="#fefbf8"/>
<rect x="373.11" y="372.15" width="12.62" height="12.63" fill="#fef4ec"/>
<rect x="385.73" y="372.15" width="12.62" height="12.63" fill="#fbdec8"/>
<rect x="82.85" y="384.78" width="12.62" height="12.63" fill="#fefbf8"/>
<rect x="108.09" y="384.78" width="12.62" height="12.63" fill="#fce9db"/>
<rect x="120.71" y="384.78" width="12.62" height="12.63" fill="#fbdec8"/>
<rect x="158.57" y="384.78" width="12.62" height="12.63" fill="#fef4ec"/>
<rect x="171.19" y="384.78" width="12.62" height="12.63" fill="#fefbf8"/>
<rect x="183.81" y="384.78" width="12.62" height="12.63" fill="#fce9db"/>
<rect x="246.91" y="384.78" width="12.62" height="12.63" fill="#fef4ec"/>
<rect x="259.53" y="384.78" width="12.62" height="12.63" fill="#42a0cf"/>
<rect x="347.87" y="384.78" width="12.62" height="12.63" fill="#fefbf8"/>
<rect x="82.85" y="397.41" width="12.62" height="12.63" fill="#fef4ec"/>
<rect x="108.09" y="397.41" width="12.62" height="12.63" fill="#fef4ec"/>
<rect x="120.71" y="397.41" width="12.62" height="12.63" fill="#fce9db"/>
<rect x="145.95" y="397.41" width="12.62" height="12.63" fill="#fefbf8"/>
<rect x="158.57" y="397.41" width="12.62" height="12.63" fill="#fef4ec"/>
<rect x="171.19" y="397.41" width="12.62" height="12.63" fill="#fef4ec"/>
<rect x="183.81" y="397.41" width="12.62" height="12.63" fill="#fef4ec"/>
<rect x="196.43" y="397.41" width="12.62" height="12.63" fill="#fefbf8"/>
<rect x="234.29" y="397.41" width="12.62" height="12.63" fill="#fefbf8"/>
<rect x="246.91" y="397.41" width="12.62" height="12.63" fill="#fefbf8"/>
<rect x="259.53" y="397.41" width="12.62" height="12.63" fill="#8a9d99"/>
<rect x="272.15" y="397.41" width="12.62" height="12.63" fill="#fef4ec"/>
<rect x="284.77" y="397.41" width="12.62" height="12.63" fill="#fefbf8"/>
<rect x="297.39" y="397.41" width="12.62" height="12.63" fill="#fef4ec"/>
<rect x="322.63" y="397.41" width="12.62" height="12.63" fill="#fefbf8"/>
<rect x="335.25" y="397.41" width="12.62" height="12.63" fill="#fefbf8"/>
<rect x="347.87" y="397.41" width="12.62" height="12.63" fill="#fefbf8"/>
<rect x="360.49" y="397.41" width="12.62" height="12.63" fill="#fefbf8"/>
<rect x="373.11" y="397.41" width="12.62" height="12.63" fill="#fbdec8"/>
<rect x="385.73" y="397.41" width="12.62" height="12.63" fill="#fef4ec"/>
<rect x="82.85" y="410.04" width="12.62" height="12.63" fill="#fef4ec"/>
<rect x="108.09" y="410.04" width="12.62" height="12.63" fill="#fce9db"/>
<rect x="120.71" y="410.04" width="12.62" height="12.63" fill="#fbdec8"/>
<rect x="145.95" y="410.04" width="12.62" height="12.63" fill="#fefbf8"/>
<rect x="158.57" y="410.04" width="12.62" height="12.63" fill="#fef4ec"/>
<rect x="171.19" y="410.04" width="12.62" height="12.63" fill="#fce9db"/>
<rect x="183.81" y="410.04" width="12.62" height="12.63" fill="#fce9db"/>
<rect x="196.43" y="410.04" width="12.62" height="12.63" fill="#fef4ec"/>
<rect x="234.29" y="410.04" width="12.62" height="12.63" fill="#fefbf8"/>
<rect x="246.91" y="410.04" width="12.62" height="12.63" fill="#fefbf8"/>
<rect x="259.53" y="410.04" width="12.62" height="12.63" fill="#bb9470"/>
<rect x="284.77" y="410.04" width="12.62" height="12.63" fill="#fefbf8"/>
<rect x="297.39" y="410.04" width="12.62" height="12.63" fill="#fefbf8"/>
<rect x="347.87" y="410.04" width="12.62" height="12.63" fill="#fefbf8"/>
<rect x="373.11" y="410.04" width="12.62" height="12.63" fill="#fce9db"/>
<rect x="385.73" y="410.04" width="12.62" height="12.63" fill="#fce9db"/>
<rect x="82.85" y="422.67" width="12.62" height="12.63" fill="#fef4ec"/>
<rect x="108.09" y="422.67" width="12.62" height="12.63" fill="#fce9db"/>
<rect x="120.71" y="422.67" width="12.62" height="12.63" fill="#fce9db"/>
<rect x="145.95" y="422.67" width="12.62" height="12.63" fill="#fefbf8"/>
<rect x="158.57" y="422.67" width="12.62" height="12.63" fill="#fef4ec"/>
<rect x="171.19" y="422.67" width="12.62" height="12.63" fill="#fce9db"/>
<rect x="183.81" y="422.67" width="12.62" height="12.63" fill="#fef4ec"/>
<rect x="196.43" y="422.67" width="12.62" height="12.63" fill="#fce9db"/>
<rect x="221.67" y="422.67" width="12.62" height="12.63" fill="#fef4ec"/>
<rect x="234.29" y="422.67" width="12.62" height="12.63" fill="#fce9db"/>
<rect x="246.91" y="422.67" width="12.62" height="12.63" fill="#fefbf8"/>
<rect x="259.53" y="422.67" width="12.62" height="12.63" fill="#8a9d99"/>
<rect x="272.15" y="422.67" width="12.62" height="12.63" fill="#fefbf8"/>
<rect x="284.77" y="422.67" width="12.62" height="12.63" fill="#fefbf8"/>
<rect x="297.39" y="422.67" width="12.62" height="12.63" fill="#fef4ec"/>
<rect x="322.63" y="422.67" width="12.62" height="12.63" fill="#fefbf8"/>
<rect x="347.87" y="422.67" width="12.62" height="12.63" fill="#fef4ec"/>
<rect x="373.11" y="422.67" width="12.62" height="12.63" fill="#fce9db"/>
<rect x="385.73" y="422.67" width="12.62" height="12.63" fill="#fef4ec"/>
<rect x="82.85" y="435.30" width="12.62" height="12.63" fill="#fefbf8"/>
<rect x="108.09" y="435.30" width="12.62" height="12.63" fill="#fef4ec"/>
<rect x="120.71" y="435.30" width="12.62" height="12.63" fill="#fefbf8"/>
<rect x="145.95" y="435.30" width="12.62" height="12.63" fill="#fefbf8"/>
<rect x="158.57" y="435.30" width="12.62" height="12.63" fill="#fef4ec"/>
<rect x="171.19" y="435.30" width="12.62" height="12.63" fill="#fefbf8"/>
<rect x="183.81" y="435.30" width="12.62" height="12.63" fill="#fef4ec"/>
<rect x="246.91" y="435.30" width="12.62" height="12.63" fill="#fce9db"/>
<rect x="259.53" y="435.30" width="12.62" height="12.63" fill="#55a3c3"/>
<rect x="272.15" y="435.30" width="12.62" height="12.63" fill="#fefbf8"/>
<rect x="297.39" y="435.30" width="12.62" height="12.63" fill="#fce9db"/>
<rect x="310.01" y="435.30" width="12.62" height="12.63" fill="#fefbf8"/>
<rect x="322.63" y="435.30" width="12.62" height="12.63" fill="#fefbf8"/>
<rect x="335.25" y="435.30" width="12.62" height="12.63" fill="#fef4ec"/>
<rect x="347.87" y="435.30" width="12.62" height="12.63" fill="#fefbf8"/>
<rect x="360.49" y="435.30" width="12.62" height="12.63" fill="#fefbf8"/>
<rect x="373.11" y="435.30" width="12.62" height="12.63" fill="#fef4ec"/>
<rect x="385.73" y="435.30" width="12.62" height="12.63" fill="#fce9db"/>
<rect x="82.85" y="447.93" width="12.62" height="12.63" fill="#fce9db"/>
<rect x="108.09" y="447.93" width="12.62" height="12.63" fill="#fce9db"/>
<rect x="120.71" y="447.93" width="12.62" height="12.63" fill="#fce9db"/>
<rect x="246.91" y="447.93" width="12.62" height="12.63" fill="#fbdec8"/>
<rect x="259.53" y="447.93" width="12.62" height="12.63" fill="#3f92c5"/>
<rect x="297.39" y="447.93" width="12.62" height="12.63" fill="#fce9db"/>
<rect x="335.25" y="447.93" width="12.62" height="12.63" fill="#fce9db"/>
<rect x="82.85" y="460.56" width="12.62" height="12.63" fill="#fbdec8"/>
<rect x="158.57" y="460.56" width="12.62" height="12.63" fill="#fbdec8"/>
<rect x="171.19" y="460.56" width="12.62" height="12.63" fill="#fbdec8"/>
<rect x="259.53" y="460.56" width="12.62" height="12.63" fill="#45a3cf"/>
<rect x="284.77" y="460.56" width="12.62" height="12.63" fill="#fbdec8"/>
<rect x="373.11" y="460.56" width="12.62" height="12.63" fill="#fbdec8"/>
<rect x="82.85" y="473.19" width="12.62" height="12.63" fill="#fef4ec"/>
<rect x="120.71" y="473.19" width="12.62" height="12.63" fill="#fef4ec"/>
<rect x="183.81" y="473.19" width="12.62" height="12.63" fill="#fef4ec"/>
<rect x="196.43" y="473.19" width="12.62" height="12.63" fill="#fef4ec"/>
<rect x="246.91" y="473.19" width="12.62" height="12.63" fill="#fefbf8"/>
<rect x="259.53" y="473.19" width="12.62" height="12.63" fill="#3d80bb"/>
<rect x="272.15" y="473.19" width="12.62" height="12.63" fill="#fefbf8"/>
<rect x="284.77" y="473.19" width="12.62" height="12.63" fill="#fefbf8"/>
<rect x="360.49" y="473.19" width="12.62" height="12.63" fill="#fefbf8"/>
<rect x="385.73" y="473.19" width="12.62" height="12.63" fill="#fefbf8"/>
<rect x="259.53" y="485.82" width="12.62" height="12.63" fill="#3d69ad"/>
<path d="M82.85 55.73V499.12M95.47 55.73V499.12M108.09 55.73V499.12M120.71 55.73V499.12M133.33 55.73V499.12M145.95 55.73V499.12M158.57 55.73V499.12M171.19 55.73V499.12M183.81 55.73V499.12M196.43 55.73V499.12M209.05 55.73V499.12M221.67 55.73V499.12M234.29 55.73V499.12M246.91 55.73V499.12M259.53 55.73V499.12M272.15 55.73V499.12M284.77 55.73V499.12M297.39 55.73V499.12M310.01 55.73V499.12M322.63 55.73V499.12M335.25 55.73V499.12M347.87 55.73V499.12M360.49 55.73V499.12M373.11 55.73V499.12M385.73 55.73V499.12M398.35 55.73V499.12M82.17 56.40H399.03M82.17 69.03H399.03M82.17 81.66H399.03M82.17 94.29H399.03M82.17 106.92H399.03M82.17 119.55H399.03M82.17 132.18H399.03M82.17 144.81H399.03M82.17 157.44H399.03M82.17 170.07H399.03M82.17 182.70H399.03M82.17 195.33H399.03M82.17 207.96H399.03M82.17 220.59H399.03M82.17 233.22H399.03M82.17 245.85H399.03M82.17 258.48H399.03M82.17 271.11H399.03M82.17 283.74H399.03M82.17 296.37H399.03M82.17 309.00H399.03M82.17 321.63H399.03M82.17 334.26H399.03M82.17 346.89H399.03M82.17 359.52H399.03M82.17 372.15H399.03M82.17 384.78H399.03M82.17 397.41H399.03M82.17 410.04H399.03M82.17 422.67H399.03M82.17 435.30H399.03M82.17 447.93H399.03M82.17 460.56H399.03M82.17 473.19H399.03M82.17 485.82H399.03M82.17 498.45H399.03" stroke="#c9c9c9" stroke-width="1.35" fill="none"/>
<text x="354.58" y="64.81" font-size="8.6" fill="#404040" text-anchor="middle" letter-spacing="0.8">**</text>
<text x="265.84" y="77.44" font-size="8.6" fill="#404040" text-anchor="middle" letter-spacing="0">*</text>
<text x="266.24" y="90.07" font-size="8.6" fill="#404040" text-anchor="middle" letter-spacing="0.8">**</text>
<text x="303.70" y="90.07" font-size="8.6" fill="#404040" text-anchor="middle" letter-spacing="0">*</text>
<text x="127.02" y="102.70" font-size="8.6" fill="#404040" text-anchor="middle" letter-spacing="0">*</text>
<text x="266.24" y="102.70" font-size="8.6" fill="#404040" text-anchor="middle" letter-spacing="0.8">**</text>
<text x="266.24" y="115.33" font-size="8.6" fill="#404040" text-anchor="middle" letter-spacing="0.8">**</text>
<text x="127.42" y="127.97" font-size="8.6" fill="#404040" text-anchor="middle" letter-spacing="0.8">**</text>
<text x="241.00" y="127.97" font-size="8.6" fill="#404040" text-anchor="middle" letter-spacing="0.8">**</text>
<text x="266.24" y="127.97" font-size="8.6" fill="#404040" text-anchor="middle" letter-spacing="0.8">**</text>
<text x="202.74" y="140.59" font-size="8.6" fill="#404040" text-anchor="middle" letter-spacing="0">*</text>
<text x="228.38" y="140.59" font-size="8.6" fill="#404040" text-anchor="middle" letter-spacing="0.8">**</text>
<text x="266.24" y="140.59" font-size="8.6" fill="#404040" text-anchor="middle" letter-spacing="0.8">**</text>
<text x="127.42" y="153.22" font-size="8.6" fill="#404040" text-anchor="middle" letter-spacing="0.8">**</text>
<text x="165.28" y="153.22" font-size="8.6" fill="#404040" text-anchor="middle" letter-spacing="0.8">**</text>
<text x="266.24" y="153.22" font-size="8.6" fill="#404040" text-anchor="middle" letter-spacing="0.8">**</text>
<text x="392.44" y="153.22" font-size="8.6" fill="#404040" text-anchor="middle" letter-spacing="0.8">**</text>
<text x="202.74" y="165.85" font-size="8.6" fill="#404040" text-anchor="middle" letter-spacing="0">*</text>
<text x="266.24" y="165.85" font-size="8.6" fill="#404040" text-anchor="middle" letter-spacing="0.8">**</text>
<text x="127.42" y="178.49" font-size="8.6" fill="#404040" text-anchor="middle" letter-spacing="0.8">**</text>
<text x="266.24" y="178.49" font-size="8.6" fill="#404040" text-anchor="middle" letter-spacing="0.8">**</text>
<text x="165.28" y="191.12" font-size="8.6" fill="#404040" text-anchor="middle" letter-spacing="0.8">**</text>
<text x="266.24" y="191.12" font-size="8.6" fill="#404040" text-anchor="middle" letter-spacing="0.8">**</text>
<text x="114.80" y="203.75" font-size="8.6" fill="#404040" text-anchor="middle" letter-spacing="0.8">**</text>
<text x="266.24" y="203.75" font-size="8.6" fill="#404040" text-anchor="middle" letter-spacing="0.8">**</text>
<text x="278.86" y="203.75" font-size="8.6" fill="#404040" text-anchor="middle" letter-spacing="0.8">**</text>
<text x="127.42" y="216.38" font-size="8.6" fill="#404040" text-anchor="middle" letter-spacing="0.8">**</text>
<text x="266.24" y="216.38" font-size="8.6" fill="#404040" text-anchor="middle" letter-spacing="0.8">**</text>
<text x="278.86" y="216.38" font-size="8.6" fill="#404040" text-anchor="middle" letter-spacing="0.8">**</text>
<text x="127.42" y="229.01" font-size="8.6" fill="#404040" text-anchor="middle" letter-spacing="0.8">**</text>
<text x="266.24" y="229.01" font-size="8.6" fill="#404040" text-anchor="middle" letter-spacing="0.8">**</text>
<text x="127.02" y="241.64" font-size="8.6" fill="#404040" text-anchor="middle" letter-spacing="0">*</text>
<text x="165.28" y="241.64" font-size="8.6" fill="#404040" text-anchor="middle" letter-spacing="0.8">**</text>
<text x="203.14" y="241.64" font-size="8.6" fill="#404040" text-anchor="middle" letter-spacing="0.8">**</text>
<text x="266.24" y="241.64" font-size="8.6" fill="#404040" text-anchor="middle" letter-spacing="0.8">**</text>
<text x="114.80" y="254.27" font-size="8.6" fill="#404040" text-anchor="middle" letter-spacing="0.8">**</text>
<text x="127.42" y="254.27" font-size="8.6" fill="#404040" text-anchor="middle" letter-spacing="0.8">**</text>
<text x="241.00" y="254.27" font-size="8.6" fill="#404040" text-anchor="middle" letter-spacing="0.8">**</text>
<text x="266.24" y="254.27" font-size="8.6" fill="#404040" text-anchor="middle" letter-spacing="0.8">**</text>
<text x="127.42" y="266.90" font-size="8.6" fill="#404040" text-anchor="middle" letter-spacing="0.8">**</text>
<text x="266.24" y="266.90" font-size="8.6" fill="#404040" text-anchor="middle" letter-spacing="0.8">**</text>
<text x="127.42" y="279.53" font-size="8.6" fill="#404040" text-anchor="middle" letter-spacing="0.8">**</text>
<text x="266.24" y="279.53" font-size="8.6" fill="#404040" text-anchor="middle" letter-spacing="0.8">**</text>
<text x="266.24" y="292.16" font-size="8.6" fill="#404040" text-anchor="middle" letter-spacing="0.8">**</text>
<text x="278.86" y="292.16" font-size="8.6" fill="#404040" text-anchor="middle" letter-spacing="0.8">**</text>
<text x="114.80" y="304.79" font-size="8.6" fill="#404040" text-anchor="middle" letter-spacing="0.8">**</text>
<text x="140.04" y="304.79" font-size="8.6" fill="#404040" text-anchor="middle" letter-spacing="0.8">**</text>
<text x="152.66" y="304.79" font-size="8.6" fill="#404040" text-anchor="middle" letter-spacing="0.8">**</text>
<text x="266.24" y="304.79" font-size="8.6" fill="#404040" text-anchor="middle" letter-spacing="0.8">**</text>
<text x="278.86" y="304.79" font-size="8.6" fill="#404040" text-anchor="middle" letter-spacing="0.8">**</text>
<text x="266.24" y="317.42" font-size="8.6" fill="#404040" text-anchor="middle" letter-spacing="0.8">**</text>
<text x="190.52" y="330.05" font-size="8.6" fill="#404040" text-anchor="middle" letter-spacing="0.8">**</text>
<text x="241.00" y="330.05" font-size="8.6" fill="#404040" text-anchor="middle" letter-spacing="0.8">**</text>
<text x="266.24" y="330.05" font-size="8.6" fill="#404040" text-anchor="middle" letter-spacing="0.8">**</text>
<text x="266.24" y="342.68" font-size="8.6" fill="#404040" text-anchor="middle" letter-spacing="0.8">**</text>
<text x="354.58" y="342.68" font-size="8.6" fill="#404040" text-anchor="middle" letter-spacing="0.8">**</text>
<text x="266.24" y="355.31" font-size="8.6" fill="#404040" text-anchor="middle" letter-spacing="0.8">**</text>
<text x="127.42" y="367.94" font-size="8.6" fill="#404040" text-anchor="middle" letter-spacing="0.8">**</text>
<text x="266.24" y="367.94" font-size="8.6" fill="#404040" text-anchor="middle" letter-spacing="0.8">**</text>
<text x="354.58" y="367.94" font-size="8.6" fill="#404040" text-anchor="middle" letter-spacing="0.8">**</text>
<text x="379.82" y="367.94" font-size="8.6" fill="#404040" text-anchor="middle" letter-spacing="0.8">**</text>
<text x="392.44" y="367.94" font-size="8.6" fill="#404040" text-anchor="middle" letter-spacing="0.8">**</text>
<text x="114.80" y="380.56" font-size="8.6" fill="#404040" text-anchor="middle" letter-spacing="0.8">**</text>
<text x="266.24" y="380.56" font-size="8.6" fill="#404040" text-anchor="middle" letter-spacing="0.8">**</text>
<text x="392.44" y="380.56" font-size="8.6" fill="#404040" text-anchor="middle" letter-spacing="0.8">**</text>
<text x="127.02" y="393.19" font-size="8.6" fill="#404040" text-anchor="middle" letter-spacing="0">*</text>
<text x="266.24" y="393.19" font-size="8.6" fill="#404040" text-anchor="middle" letter-spacing="0.8">**</text>
<text x="127.42" y="405.83" font-size="8.6" fill="#404040" text-anchor="middle" letter-spacing="0.8">**</text>
<text x="215.76" y="405.83" font-size="8.6" fill="#404040" text-anchor="middle" letter-spacing="0.8">**</text>
<text x="266.24" y="405.83" font-size="8.6" fill="#404040" text-anchor="middle" letter-spacing="0.8">**</text>
<text x="127.42" y="418.46" font-size="8.6" fill="#404040" text-anchor="middle" letter-spacing="0.8">**</text>
<text x="266.24" y="418.46" font-size="8.6" fill="#404040" text-anchor="middle" letter-spacing="0.8">**</text>
<text x="127.42" y="431.09" font-size="8.6" fill="#404040" text-anchor="middle" letter-spacing="0.8">**</text>
<text x="152.66" y="431.09" font-size="8.6" fill="#404040" text-anchor="middle" letter-spacing="0.8">**</text>
<text x="228.38" y="431.09" font-size="8.6" fill="#404040" text-anchor="middle" letter-spacing="0.8">**</text>
<text x="266.24" y="431.09" font-size="8.6" fill="#404040" text-anchor="middle" letter-spacing="0.8">**</text>
<text x="266.24" y="443.72" font-size="8.6" fill="#404040" text-anchor="middle" letter-spacing="0.8">**</text>
<text x="266.24" y="456.35" font-size="8.6" fill="#404040" text-anchor="middle" letter-spacing="0.8">**</text>
<text x="266.24" y="468.98" font-size="8.6" fill="#404040" text-anchor="middle" letter-spacing="0.8">**</text>
<text x="266.24" y="481.61" font-size="8.6" fill="#404040" text-anchor="middle" letter-spacing="0.8">**</text>
<text x="266.24" y="494.24" font-size="8.6" fill="#404040" text-anchor="middle" letter-spacing="0.8">**</text>
<text x="403.50" y="67.72" font-size="11.3" fill="#000" stroke="#000" stroke-width="0.18" text-anchor="start">Fibrobacteres</text>
<text x="403.50" y="80.34" font-size="11.3" fill="#000" stroke="#000" stroke-width="0.18" text-anchor="start">Dictyoglomi</text>
<text x="403.50" y="92.97" font-size="11.3" fill="#000" stroke="#000" stroke-width="0.18" text-anchor="start">Elusimicrobia</text>
<text x="403.50" y="105.61" font-size="11.3" fill="#000" stroke="#000" stroke-width="0.18" text-anchor="start">Aquificae</text>
<text x="403.50" y="118.23" font-size="11.3" fill="#000" stroke="#000" stroke-width="0.18" text-anchor="start">Synergistetes</text>
<text x="403.50" y="130.87" font-size="11.3" fill="#000" stroke="#000" stroke-width="0.18" text-anchor="start">Proteobacteria</text>
<text x="403.50" y="143.50" font-size="11.3" fill="#000" stroke="#000" stroke-width="0.18" text-anchor="start">Gemmatimonadetes</text>
<text x="403.50" y="156.12" font-size="11.3" fill="#000" stroke="#000" stroke-width="0.18" text-anchor="start">Actinobacteria</text>
<text x="403.50" y="168.75" font-size="11.3" fill="#000" stroke="#000" stroke-width="0.18" text-anchor="start">Armatimonadetes</text>
<text x="403.50" y="181.39" font-size="11.3" fill="#000" stroke="#000" stroke-width="0.18" text-anchor="start">Firmicutes</text>
<text x="403.50" y="194.02" font-size="11.3" fill="#000" stroke="#000" stroke-width="0.18" text-anchor="start">Thermotogae</text>
<text x="403.50" y="206.65" font-size="11.3" fill="#000" stroke="#000" stroke-width="0.18" text-anchor="start">Thaumarchaeota</text>
<text x="403.50" y="219.28" font-size="11.3" fill="#000" stroke="#000" stroke-width="0.18" text-anchor="start">Nitrospirae</text>
<text x="403.50" y="231.91" font-size="11.3" fill="#000" stroke="#000" stroke-width="0.18" text-anchor="start">Chlorobi</text>
<text x="403.50" y="244.54" font-size="11.3" fill="#000" stroke="#000" stroke-width="0.18" text-anchor="start">Tenericutes</text>
<text x="403.50" y="257.17" font-size="11.3" fill="#000" stroke="#000" stroke-width="0.18" text-anchor="start">Bacteroidetes</text>
<text x="403.50" y="269.80" font-size="11.3" fill="#000" stroke="#000" stroke-width="0.18" text-anchor="start">Acidobacteria</text>
<text x="403.50" y="282.43" font-size="11.3" fill="#000" stroke="#000" stroke-width="0.18" text-anchor="start">Deferribacteres</text>
<text x="403.50" y="295.06" font-size="11.3" fill="#000" stroke="#000" stroke-width="0.18" text-anchor="start">Thermodesulfobacteria</text>
<text x="403.50" y="307.69" font-size="11.3" fill="#000" stroke="#000" stroke-width="0.18" text-anchor="start">Euryarchaeota</text>
<text x="403.50" y="320.31" font-size="11.3" fill="#000" stroke="#000" stroke-width="0.18" text-anchor="start">Deinococcus−Thermus</text>
<text x="403.50" y="332.94" font-size="11.3" fill="#000" stroke="#000" stroke-width="0.18" text-anchor="start">Fusobacteria</text>
<text x="403.50" y="345.57" font-size="11.3" fill="#000" stroke="#000" stroke-width="0.18" text-anchor="start">Chrysiogenetes</text>
<text x="403.50" y="358.20" font-size="11.3" fill="#000" stroke="#000" stroke-width="0.18" text-anchor="start">Chloroflexi</text>
<text x="403.50" y="370.83" font-size="11.3" fill="#000" stroke="#000" stroke-width="0.18" text-anchor="start">Verrucomicrobia</text>
<text x="403.50" y="383.46" font-size="11.3" fill="#000" stroke="#000" stroke-width="0.18" text-anchor="start">Chlamydiae</text>
<text x="403.50" y="396.09" font-size="11.3" fill="#000" stroke="#000" stroke-width="0.18" text-anchor="start">Kiritimatiellaeota</text>
<text x="403.50" y="408.73" font-size="11.3" fill="#000" stroke="#000" stroke-width="0.18" text-anchor="start">Cyanobacteria</text>
<text x="403.50" y="421.36" font-size="11.3" fill="#000" stroke="#000" stroke-width="0.18" text-anchor="start">Spirochaetes</text>
<text x="403.50" y="433.99" font-size="11.3" fill="#000" stroke="#000" stroke-width="0.18" text-anchor="start">Planctomycetes</text>
<text x="403.50" y="446.62" font-size="11.3" fill="#000" stroke="#000" stroke-width="0.18" text-anchor="start">Crenarchaeota</text>
<text x="403.50" y="459.25" font-size="11.3" fill="#000" stroke="#000" stroke-width="0.18" text-anchor="start">Balneolaeota</text>
<text x="403.50" y="471.88" font-size="11.3" fill="#000" stroke="#000" stroke-width="0.18" text-anchor="start">Caldiserica</text>
<text x="403.50" y="484.50" font-size="11.3" fill="#000" stroke="#000" stroke-width="0.18" text-anchor="start">Calditrichaeota</text>
<text x="403.50" y="497.13" font-size="11.3" fill="#000" stroke="#000" stroke-width="0.18" text-anchor="start">Korarchaeota</text>
<rect x="81.20" y="502.00" width="63.30" height="12.70" fill="#dcdfe3"/>
<rect x="144.50" y="502.00" width="114.80" height="12.70" fill="#b0e8f5"/>
<rect x="259.30" y="502.00" width="113.60" height="12.70" fill="#f3f1c1"/>
<rect x="372.90" y="502.00" width="26.40" height="12.70" fill="#f5bec7"/>
<text x="88.06" y="512.70" font-size="11.7" fill="#000" stroke="#000" stroke-width="0.18" text-anchor="middle">J</text>
<text x="100.69" y="512.70" font-size="11.7" fill="#000" stroke="#000" stroke-width="0.18" text-anchor="middle">A</text>
<text x="113.33" y="512.70" font-size="11.7" fill="#000" stroke="#000" stroke-width="0.18" text-anchor="middle">K</text>
<text x="125.96" y="512.70" font-size="11.7" fill="#000" stroke="#000" stroke-width="0.18" text-anchor="middle">L</text>
<text x="138.59" y="512.70" font-size="11.7" fill="#000" stroke="#000" stroke-width="0.18" text-anchor="middle">B</text>
<text x="151.22" y="512.70" font-size="11.7" fill="#000" stroke="#000" stroke-width="0.18" text-anchor="middle">D</text>
<text x="163.84" y="512.70" font-size="11.7" fill="#000" stroke="#000" stroke-width="0.18" text-anchor="middle">V</text>
<text x="176.48" y="512.70" font-size="11.7" fill="#000" stroke="#000" stroke-width="0.18" text-anchor="middle">T</text>
<text x="189.11" y="512.70" font-size="11.7" fill="#000" stroke="#000" stroke-width="0.18" text-anchor="middle">M</text>
<text x="201.74" y="512.70" font-size="11.7" fill="#000" stroke="#000" stroke-width="0.18" text-anchor="middle">N</text>
<text x="214.37" y="512.70" font-size="11.7" fill="#000" stroke="#000" stroke-width="0.18" text-anchor="middle">Z</text>
<text x="227.00" y="512.70" font-size="11.7" fill="#000" stroke="#000" stroke-width="0.18" text-anchor="middle">W</text>
<text x="239.62" y="512.70" font-size="11.7" fill="#000" stroke="#000" stroke-width="0.18" text-anchor="middle">U</text>
<text x="252.26" y="512.70" font-size="11.7" fill="#000" stroke="#000" stroke-width="0.18" text-anchor="middle">O</text>
<text x="264.88" y="512.70" font-size="11.7" fill="#000" stroke="#000" stroke-width="0.18" text-anchor="middle">X</text>
<text x="277.51" y="512.70" font-size="11.7" fill="#000" stroke="#000" stroke-width="0.18" text-anchor="middle">C</text>
<text x="290.14" y="512.70" font-size="11.7" fill="#000" stroke="#000" stroke-width="0.18" text-anchor="middle">G</text>
<text x="302.77" y="512.70" font-size="11.7" fill="#000" stroke="#000" stroke-width="0.18" text-anchor="middle">E</text>
<text x="315.40" y="512.70" font-size="11.7" fill="#000" stroke="#000" stroke-width="0.18" text-anchor="middle">F</text>
<text x="328.04" y="512.70" font-size="11.7" fill="#000" stroke="#000" stroke-width="0.18" text-anchor="middle">H</text>
<text x="340.67" y="512.70" font-size="11.7" fill="#000" stroke="#000" stroke-width="0.18" text-anchor="middle">I</text>
<text x="353.30" y="512.70" font-size="11.7" fill="#000" stroke="#000" stroke-width="0.18" text-anchor="middle">P</text>
<text x="365.93" y="512.70" font-size="11.7" fill="#000" stroke="#000" stroke-width="0.18" text-anchor="middle">Q</text>
<text x="378.56" y="512.70" font-size="11.7" fill="#000" stroke="#000" stroke-width="0.18" text-anchor="middle">R</text>
<text x="391.19" y="512.70" font-size="11.7" fill="#000" stroke="#000" stroke-width="0.18" text-anchor="middle">S</text>
<text x="525.00" y="9.30" font-size="12.5" fill="#000" stroke="#000" stroke-width="0.18" text-anchor="start">b</text>
<text x="595.80" y="9.20" font-size="11.6" fill="#000" stroke="#000" stroke-width="0.18" text-anchor="middle">Percentage</text>
<text x="542.70" y="18.70" font-size="11.8" fill="#222" stroke="#222" stroke-width="0.18" text-anchor="start" transform="rotate(90 542.70 18.70)">0.00</text>
<rect x="548.15" y="50.20" width="1.50" height="5.50" fill="#111"/>
<text x="570.30" y="18.70" font-size="11.8" fill="#222" stroke="#222" stroke-width="0.18" text-anchor="start" transform="rotate(90 570.30 18.70)">0.25</text>
<rect x="575.75" y="50.20" width="1.50" height="5.50" fill="#111"/>
<text x="597.90" y="18.70" font-size="11.8" fill="#222" stroke="#222" stroke-width="0.18" text-anchor="start" transform="rotate(90 597.90 18.70)">0.50</text>
<rect x="603.35" y="50.20" width="1.50" height="5.50" fill="#111"/>
<text x="625.50" y="18.70" font-size="11.8" fill="#222" stroke="#222" stroke-width="0.18" text-anchor="start" transform="rotate(90 625.50 18.70)">0.75</text>
<rect x="630.95" y="50.20" width="1.50" height="5.50" fill="#111"/>
<text x="653.10" y="18.70" font-size="11.8" fill="#222" stroke="#222" stroke-width="0.18" text-anchor="start" transform="rotate(90 653.10 18.70)">1.00</text>
<rect x="658.55" y="50.20" width="1.50" height="5.50" fill="#111"/>
<rect x="548.90" y="57.40" width="110.90" height="11.43" fill="#fee391"/>
<rect x="548.90" y="57.40" width="43.50" height="11.43" fill="#7eaed1"/>
<rect x="543.80" y="61.91" width="5.00" height="1.60" fill="#111"/>
<rect x="548.90" y="70.03" width="110.90" height="11.43" fill="#fee391"/>
<rect x="548.90" y="70.03" width="27.27" height="11.43" fill="#7eaed1"/>
<rect x="543.80" y="74.55" width="5.00" height="1.60" fill="#111"/>
<rect x="548.90" y="82.66" width="110.90" height="11.43" fill="#fee391"/>
<rect x="548.90" y="82.66" width="26.39" height="11.43" fill="#7eaed1"/>
<rect x="543.80" y="87.17" width="5.00" height="1.60" fill="#111"/>
<rect x="548.90" y="95.29" width="110.90" height="11.43" fill="#fee391"/>
<rect x="548.90" y="95.29" width="23.85" height="11.43" fill="#7eaed1"/>
<rect x="543.80" y="99.81" width="5.00" height="1.60" fill="#111"/>
<text x="666.20" y="105.20" font-size="9.2" fill="#404040" text-anchor="middle" letter-spacing="0.6">**</text>
<rect x="548.90" y="107.92" width="110.90" height="11.43" fill="#fee391"/>
<rect x="548.90" y="107.92" width="21.20" height="11.43" fill="#7eaed1"/>
<rect x="543.80" y="112.44" width="5.00" height="1.60" fill="#111"/>
<text x="665.90" y="117.83" font-size="9.2" fill="#404040" text-anchor="middle" letter-spacing="0">*</text>
<rect x="548.90" y="120.55" width="110.90" height="11.43" fill="#fee391"/>
<rect x="548.90" y="120.55" width="19.32" height="11.43" fill="#7eaed1"/>
<rect x="543.80" y="125.07" width="5.00" height="1.60" fill="#111"/>
<text x="666.20" y="130.47" font-size="9.2" fill="#404040" text-anchor="middle" letter-spacing="0.6">**</text>
<rect x="548.90" y="133.18" width="110.90" height="11.43" fill="#fee391"/>
<rect x="548.90" y="133.18" width="19.21" height="11.43" fill="#7eaed1"/>
<rect x="543.80" y="137.69" width="5.00" height="1.60" fill="#111"/>
<rect x="548.90" y="145.81" width="110.90" height="11.43" fill="#fee391"/>
<rect x="548.90" y="145.81" width="17.00" height="11.43" fill="#7eaed1"/>
<rect x="543.80" y="150.32" width="5.00" height="1.60" fill="#111"/>
<text x="666.20" y="155.72" font-size="9.2" fill="#404040" text-anchor="middle" letter-spacing="0.6">**</text>
<rect x="548.90" y="158.44" width="110.90" height="11.43" fill="#fee391"/>
<rect x="548.90" y="158.44" width="15.46" height="11.43" fill="#7eaed1"/>
<rect x="543.80" y="162.95" width="5.00" height="1.60" fill="#111"/>
<rect x="548.90" y="171.07" width="110.90" height="11.43" fill="#fee391"/>
<rect x="548.90" y="171.07" width="15.46" height="11.43" fill="#7eaed1"/>
<rect x="543.80" y="175.59" width="5.00" height="1.60" fill="#111"/>
<text x="666.20" y="180.99" font-size="9.2" fill="#404040" text-anchor="middle" letter-spacing="0.6">**</text>
<rect x="548.90" y="183.70" width="110.90" height="11.43" fill="#fee391"/>
<rect x="548.90" y="183.70" width="15.46" height="11.43" fill="#7eaed1"/>
<rect x="543.80" y="188.22" width="5.00" height="1.60" fill="#111"/>
<text x="666.20" y="193.62" font-size="9.2" fill="#404040" text-anchor="middle" letter-spacing="0.6">**</text>
<rect x="548.90" y="196.33" width="110.90" height="11.43" fill="#fee391"/>
<rect x="548.90" y="196.33" width="15.24" height="11.43" fill="#7eaed1"/>
<rect x="543.80" y="200.84" width="5.00" height="1.60" fill="#111"/>
<text x="666.20" y="206.25" font-size="9.2" fill="#404040" text-anchor="middle" letter-spacing="0.6">**</text>
<rect x="548.90" y="208.96" width="110.90" height="11.43" fill="#fee391"/>
<rect x="548.90" y="208.96" width="14.35" height="11.43" fill="#7eaed1"/>
<rect x="543.80" y="213.47" width="5.00" height="1.60" fill="#111"/>
<text x="666.20" y="218.88" font-size="9.2" fill="#404040" text-anchor="middle" letter-spacing="0.6">**</text>
<rect x="548.90" y="221.59" width="110.90" height="11.43" fill="#fee391"/>
<rect x="548.90" y="221.59" width="14.13" height="11.43" fill="#7eaed1"/>
<rect x="543.80" y="226.11" width="5.00" height="1.60" fill="#111"/>
<text x="666.20" y="231.51" font-size="9.2" fill="#404040" text-anchor="middle" letter-spacing="0.6">**</text>
<rect x="548.90" y="234.22" width="110.90" height="11.43" fill="#fee391"/>
<rect x="548.90" y="234.22" width="13.54" height="11.43" fill="#7eaed1"/>
<rect x="543.80" y="238.74" width="5.00" height="1.60" fill="#111"/>
<text x="666.20" y="244.14" font-size="9.2" fill="#404040" text-anchor="middle" letter-spacing="0.6">**</text>
<rect x="548.90" y="246.85" width="110.90" height="11.43" fill="#fee391"/>
<rect x="548.90" y="246.85" width="13.54" height="11.43" fill="#7eaed1"/>
<rect x="543.80" y="251.37" width="5.00" height="1.60" fill="#111"/>
<text x="666.20" y="256.77" font-size="9.2" fill="#404040" text-anchor="middle" letter-spacing="0.6">**</text>
<rect x="548.90" y="259.48" width="110.90" height="11.43" fill="#fee391"/>
<rect x="548.90" y="259.48" width="12.55" height="11.43" fill="#7eaed1"/>
<rect x="543.80" y="264.00" width="5.00" height="1.60" fill="#111"/>
<text x="666.20" y="269.40" font-size="9.2" fill="#404040" text-anchor="middle" letter-spacing="0.6">**</text>
<rect x="548.90" y="272.11" width="110.90" height="11.43" fill="#fee391"/>
<rect x="548.90" y="272.11" width="12.31" height="11.43" fill="#7eaed1"/>
<rect x="543.80" y="276.62" width="5.00" height="1.60" fill="#111"/>
<rect x="548.90" y="284.74" width="110.90" height="11.43" fill="#fee391"/>
<rect x="548.90" y="284.74" width="12.03" height="11.43" fill="#7eaed1"/>
<rect x="543.80" y="289.25" width="5.00" height="1.60" fill="#111"/>
<text x="665.90" y="294.66" font-size="9.2" fill="#404040" text-anchor="middle" letter-spacing="0">*</text>
<rect x="548.90" y="297.37" width="110.90" height="11.43" fill="#fee391"/>
<rect x="548.90" y="297.37" width="10.93" height="11.43" fill="#7eaed1"/>
<rect x="543.80" y="301.88" width="5.00" height="1.60" fill="#111"/>
<text x="666.20" y="307.29" font-size="9.2" fill="#404040" text-anchor="middle" letter-spacing="0.6">**</text>
<rect x="548.90" y="310.00" width="110.90" height="11.43" fill="#fee391"/>
<rect x="548.90" y="310.00" width="10.93" height="11.43" fill="#7eaed1"/>
<rect x="543.80" y="314.51" width="5.00" height="1.60" fill="#111"/>
<text x="666.20" y="319.92" font-size="9.2" fill="#404040" text-anchor="middle" letter-spacing="0.6">**</text>
<rect x="548.90" y="322.63" width="110.90" height="11.43" fill="#fee391"/>
<rect x="548.90" y="322.63" width="10.34" height="11.43" fill="#7eaed1"/>
<rect x="543.80" y="327.14" width="5.00" height="1.60" fill="#111"/>
<text x="666.20" y="332.55" font-size="9.2" fill="#404040" text-anchor="middle" letter-spacing="0.6">**</text>
<rect x="548.90" y="335.26" width="110.90" height="11.43" fill="#fee391"/>
<rect x="548.90" y="335.26" width="10.22" height="11.43" fill="#7eaed1"/>
<rect x="543.80" y="339.77" width="5.00" height="1.60" fill="#111"/>
<rect x="548.90" y="347.89" width="110.90" height="11.43" fill="#fee391"/>
<rect x="548.90" y="347.89" width="9.11" height="11.43" fill="#7eaed1"/>
<rect x="543.80" y="352.40" width="5.00" height="1.60" fill="#111"/>
<text x="666.20" y="357.81" font-size="9.2" fill="#404040" text-anchor="middle" letter-spacing="0.6">**</text>
<rect x="548.90" y="360.52" width="110.90" height="11.43" fill="#fee391"/>
<rect x="548.90" y="360.52" width="8.38" height="11.43" fill="#7eaed1"/>
<rect x="543.80" y="365.03" width="5.00" height="1.60" fill="#111"/>
<text x="666.20" y="370.44" font-size="9.2" fill="#404040" text-anchor="middle" letter-spacing="0.6">**</text>
<rect x="548.90" y="373.15" width="110.90" height="11.43" fill="#fee391"/>
<rect x="548.90" y="373.15" width="8.13" height="11.43" fill="#7eaed1"/>
<rect x="543.80" y="377.66" width="5.00" height="1.60" fill="#111"/>
<text x="666.20" y="383.06" font-size="9.2" fill="#404040" text-anchor="middle" letter-spacing="0.6">**</text>
<rect x="548.90" y="385.78" width="110.90" height="11.43" fill="#fee391"/>
<rect x="548.90" y="385.78" width="7.88" height="11.43" fill="#7eaed1"/>
<rect x="543.80" y="390.29" width="5.00" height="1.60" fill="#111"/>
<rect x="548.90" y="398.41" width="110.90" height="11.43" fill="#fee391"/>
<rect x="548.90" y="398.41" width="7.88" height="11.43" fill="#7eaed1"/>
<rect x="543.80" y="402.93" width="5.00" height="1.60" fill="#111"/>
<text x="666.20" y="408.33" font-size="9.2" fill="#404040" text-anchor="middle" letter-spacing="0.6">**</text>
<rect x="548.90" y="411.04" width="110.90" height="11.43" fill="#fee391"/>
<rect x="548.90" y="411.04" width="7.88" height="11.43" fill="#7eaed1"/>
<rect x="543.80" y="415.56" width="5.00" height="1.60" fill="#111"/>
<text x="666.20" y="420.96" font-size="9.2" fill="#404040" text-anchor="middle" letter-spacing="0.6">**</text>
<rect x="548.90" y="423.67" width="110.90" height="11.43" fill="#fee391"/>
<rect x="548.90" y="423.67" width="6.40" height="11.43" fill="#7eaed1"/>
<rect x="543.80" y="428.19" width="5.00" height="1.60" fill="#111"/>
<text x="666.20" y="433.59" font-size="9.2" fill="#404040" text-anchor="middle" letter-spacing="0.6">**</text>
<rect x="548.90" y="436.30" width="110.90" height="11.43" fill="#fee391"/>
<rect x="548.90" y="436.30" width="6.29" height="11.43" fill="#7eaed1"/>
<rect x="543.80" y="440.81" width="5.00" height="1.60" fill="#111"/>
<text x="666.20" y="446.22" font-size="9.2" fill="#404040" text-anchor="middle" letter-spacing="0.6">**</text>
<rect x="548.90" y="448.93" width="110.90" height="11.43" fill="#fee391"/>
<rect x="548.90" y="448.93" width="5.06" height="11.43" fill="#7eaed1"/>
<rect x="543.80" y="453.44" width="5.00" height="1.60" fill="#111"/>
<rect x="548.90" y="461.56" width="110.90" height="11.43" fill="#fee391"/>
<rect x="548.90" y="461.56" width="4.08" height="11.43" fill="#7eaed1"/>
<rect x="543.80" y="466.07" width="5.00" height="1.60" fill="#111"/>
<rect x="548.90" y="474.19" width="110.90" height="11.43" fill="#fee391"/>
<rect x="548.90" y="474.19" width="3.09" height="11.43" fill="#7eaed1"/>
<rect x="543.80" y="478.70" width="5.00" height="1.60" fill="#111"/>
<rect x="548.90" y="486.82" width="110.90" height="11.43" fill="#fee391"/>
<rect x="548.90" y="486.82" width="0.44" height="11.43" fill="#7eaed1"/>
<rect x="543.80" y="491.33" width="5.00" height="1.60" fill="#111"/>
<rect x="547.90" y="54.70" width="2.00" height="445.50" fill="#000"/>
<rect x="547.90" y="55.20" width="112.15" height="1.80" fill="#000"/>
<rect x="536.00" y="522.30" width="13.00" height="12.80" fill="#7eaed1"/>
<text x="559.70" y="534.00" font-size="13.4" fill="#000" stroke="#000" stroke-width="0.18" text-anchor="start">Essential function</text>
<rect x="536.00" y="545.90" width="13.00" height="12.90" fill="#fee391"/>
<text x="559.70" y="556.70" font-size="13.4" fill="#000" stroke="#000" stroke-width="0.18" text-anchor="start">Non-essential funtion</text>
<rect x="12.50" y="534.00" width="13.50" height="13.40" fill="#dcdfe3"/>
<text x="32.60" y="545.20" font-size="13.5" fill="#000" stroke="#000" stroke-width="0.18" text-anchor="start">INFORMATION STORAGE AND PROCESSING</text>
<rect x="12.50" y="561.00" width="13.50" height="13.40" fill="#b0e8f5"/>
<text x="32.60" y="572.20" font-size="13.5" fill="#000" stroke="#000" stroke-width="0.18" text-anchor="start">CELLULAR PROCESSES AND SIGNALING</text>
<rect x="338.20" y="533.50" width="13.50" height="13.40" fill="#f3f1c1"/>
<text x="359.20" y="544.70" font-size="13.5" fill="#000" stroke="#000" stroke-width="0.18" text-anchor="start">METABOLISM</text>
<rect x="319.20" y="560.50" width="13.50" height="13.40" fill="#f5bec7"/>
<text x="341.20" y="571.70" font-size="13.5" fill="#000" stroke="#000" stroke-width="0.18" text-anchor="start">POORLY CHARACTERIZED</text>
<text x="10.00" y="593.00" font-size="12.5" fill="#000" stroke="#000" stroke-width="0.18" text-anchor="start">c</text>
<rect x="28.60" y="625.20" width="13.50" height="5.35" fill="#e0929d"/>
<rect x="28.60" y="630.25" width="13.50" height="5.35" fill="#e297a1"/>
<rect x="28.60" y="635.31" width="13.50" height="5.35" fill="#e39ca5"/>
<rect x="28.60" y="640.36" width="13.50" height="5.35" fill="#e4a0a9"/>
<rect x="28.60" y="645.41" width="13.50" height="5.35" fill="#e6a5ad"/>
<rect x="28.60" y="650.46" width="13.50" height="5.35" fill="#e7a9b1"/>
<rect x="28.60" y="655.51" width="13.50" height="5.35" fill="#e9aeb5"/>
<rect x="28.60" y="660.57" width="13.50" height="5.35" fill="#eab3b9"/>
<rect x="28.60" y="665.62" width="13.50" height="5.35" fill="#ebb7bd"/>
<rect x="28.60" y="670.67" width="13.50" height="5.35" fill="#edbcc0"/>
<rect x="28.60" y="675.73" width="13.50" height="5.35" fill="#eec0c4"/>
<rect x="28.60" y="680.78" width="13.50" height="5.35" fill="#efc5c9"/>
<rect x="28.60" y="685.83" width="13.50" height="5.35" fill="#f1cacd"/>
<rect x="28.60" y="690.88" width="13.50" height="5.35" fill="#f2cfd2"/>
<rect x="28.60" y="695.94" width="13.50" height="5.35" fill="#f3d4d6"/>
<rect x="28.60" y="700.99" width="13.50" height="5.35" fill="#f5d9db"/>
<rect x="28.60" y="706.04" width="13.50" height="5.35" fill="#f6dedf"/>
<rect x="28.60" y="711.09" width="13.50" height="5.35" fill="#f7e3e4"/>
<rect x="28.60" y="716.14" width="13.50" height="5.35" fill="#f9e8e8"/>
<rect x="28.60" y="721.20" width="13.50" height="5.35" fill="#fefdfb"/>
<rect x="28.60" y="726.25" width="13.50" height="5.35" fill="#fefdfb"/>
<rect x="28.60" y="731.30" width="13.50" height="5.35" fill="#deeaf4"/>
<rect x="28.60" y="736.36" width="13.50" height="5.35" fill="#d6e6f1"/>
<rect x="28.60" y="741.41" width="13.50" height="5.35" fill="#cee0ee"/>
<rect x="28.60" y="746.46" width="13.50" height="5.35" fill="#c5dcec"/>
<rect x="28.60" y="751.51" width="13.50" height="5.35" fill="#bdd6e9"/>
<rect x="28.60" y="756.56" width="13.50" height="5.35" fill="#b4d2e6"/>
<rect x="28.60" y="761.62" width="13.50" height="5.35" fill="#accce4"/>
<rect x="28.60" y="766.67" width="13.50" height="5.35" fill="#a3c8e1"/>
<rect x="28.60" y="771.72" width="13.50" height="5.35" fill="#9bc2de"/>
<rect x="28.60" y="776.77" width="13.50" height="5.35" fill="#8fbddb"/>
<rect x="28.60" y="781.83" width="13.50" height="5.35" fill="#83b7d8"/>
<rect x="28.60" y="786.88" width="13.50" height="5.35" fill="#77b2d5"/>
<rect x="28.60" y="791.93" width="13.50" height="5.35" fill="#6bacd2"/>
<rect x="28.60" y="796.98" width="13.50" height="5.35" fill="#5fa7cf"/>
<rect x="28.60" y="802.04" width="13.50" height="5.35" fill="#4fa2cd"/>
<rect x="28.60" y="807.09" width="13.50" height="5.35" fill="#3e9eca"/>
<rect x="28.60" y="812.14" width="13.50" height="5.35" fill="#2d9ac7"/>
<rect x="28.60" y="817.19" width="13.50" height="5.35" fill="#1c96c5"/>
<rect x="28.60" y="822.25" width="13.50" height="5.05" fill="#0c91c2"/>
<text x="47.60" y="628.40" font-size="11.2" fill="#000" stroke="#000" stroke-width="0.18" text-anchor="start">20</text>
<text x="47.60" y="678.93" font-size="11.2" fill="#000" stroke="#000" stroke-width="0.18" text-anchor="start">10</text>
<text x="47.60" y="729.45" font-size="12.4" fill="#000" stroke="#000" stroke-width="0.18" text-anchor="start">0</text>
<text x="47.60" y="779.98" font-size="11.2" fill="#000" stroke="#000" stroke-width="0.18" text-anchor="start">−10</text>
<text x="47.60" y="830.50" font-size="11.2" fill="#000" stroke="#000" stroke-width="0.18" text-anchor="start">−20</text>
<text x="12.60" y="654.60" font-size="11.25" fill="#000" stroke="#000" stroke-width="0.18" text-anchor="start" transform="rotate(90 12.60 654.60)">−log(qval)*sign(coeff)</text>
<rect x="83.80" y="594.90" width="10.00" height="10.00" fill="#e38d9c"/>
<text x="88.80" y="603.30" font-size="10" fill="#f2eadc" text-anchor="middle" font-weight="bold">+</text>
<rect x="95.10" y="594.90" width="10.00" height="10.00" fill="#fdfdfb"/>
<text x="112.80" y="604.70" font-size="11.0" fill="#000" stroke="#000" stroke-width="0.18" text-anchor="start">N</text>
<rect x="83.80" y="606.26" width="10.00" height="10.00" fill="#0d8fc1"/>
<text x="88.80" y="614.66" font-size="10" fill="#f2eadc" text-anchor="middle" font-weight="bold">−</text>
<rect x="95.10" y="606.26" width="10.00" height="10.00" fill="#d4e3f0"/>
<text x="100.10" y="614.66" font-size="10" fill="#f2eadc" text-anchor="middle" font-weight="bold">−</text>
<text x="112.80" y="616.06" font-size="11.0" fill="#000" stroke="#000" stroke-width="0.18" text-anchor="start">R</text>
<rect x="83.80" y="617.62" width="10.00" height="10.00" fill="#2f95c6"/>
<text x="88.80" y="626.02" font-size="10" fill="#f2eadc" text-anchor="middle" font-weight="bold">−</text>
<rect x="95.10" y="617.62" width="10.00" height="10.00" fill="#d4e3f0"/>
<text x="100.10" y="626.02" font-size="10" fill="#f2eadc" text-anchor="middle" font-weight="bold">−</text>
<text x="112.80" y="627.42" font-size="11.0" fill="#000" stroke="#000" stroke-width="0.18" text-anchor="start">G</text>
<rect x="83.80" y="628.98" width="10.00" height="10.00" fill="#65a9d0"/>
<text x="88.80" y="637.38" font-size="10" fill="#f2eadc" text-anchor="middle" font-weight="bold">−</text>
<rect x="95.10" y="628.98" width="10.00" height="10.00" fill="#b3d0e6"/>
<text x="100.10" y="637.38" font-size="10" fill="#f2eadc" text-anchor="middle" font-weight="bold">−</text>
<text x="112.80" y="638.78" font-size="11.0" fill="#000" stroke="#000" stroke-width="0.18" text-anchor="start">T</text>
<rect x="83.80" y="640.34" width="10.00" height="10.00" fill="#f2c4c9"/>
<text x="88.80" y="648.74" font-size="10" fill="#f2eadc" text-anchor="middle" font-weight="bold">+</text>
<rect x="95.10" y="640.34" width="10.00" height="10.00" fill="#fdfdfb"/>
<text x="112.80" y="650.14" font-size="11.0" fill="#000" stroke="#000" stroke-width="0.18" text-anchor="start">J</text>
<rect x="83.80" y="651.70" width="10.00" height="10.00" fill="#97c0df"/>
<text x="88.80" y="660.10" font-size="10" fill="#f2eadc" text-anchor="middle" font-weight="bold">−</text>
<rect x="95.10" y="651.70" width="10.00" height="10.00" fill="#97c0df"/>
<text x="100.10" y="660.10" font-size="10" fill="#f2eadc" text-anchor="middle" font-weight="bold">−</text>
<text x="112.80" y="661.50" font-size="11.0" fill="#000" stroke="#000" stroke-width="0.18" text-anchor="start">E</text>
<rect x="83.80" y="663.06" width="10.00" height="10.00" fill="#f8e3e3"/>
<text x="88.80" y="671.46" font-size="10" fill="#f2eadc" text-anchor="middle" font-weight="bold">+</text>
<rect x="95.10" y="663.06" width="10.00" height="10.00" fill="#f2c4c9"/>
<text x="100.10" y="671.46" font-size="10" fill="#f2eadc" text-anchor="middle" font-weight="bold">+</text>
<text x="112.80" y="672.86" font-size="11.0" fill="#000" stroke="#000" stroke-width="0.18" text-anchor="start">X</text>
<rect x="83.80" y="674.42" width="10.00" height="10.00" fill="#b6d2e8"/>
<text x="88.80" y="682.82" font-size="10" fill="#f2eadc" text-anchor="middle" font-weight="bold">−</text>
<rect x="95.10" y="674.42" width="10.00" height="10.00" fill="#fdfdfb"/>
<text x="112.80" y="684.22" font-size="11.0" fill="#000" stroke="#000" stroke-width="0.18" text-anchor="start">D</text>
<rect x="83.80" y="685.78" width="10.00" height="10.00" fill="#b6d2e8"/>
<text x="88.80" y="694.18" font-size="10" fill="#f2eadc" text-anchor="middle" font-weight="bold">−</text>
<rect x="95.10" y="685.78" width="10.00" height="10.00" fill="#c5dcec"/>
<text x="100.10" y="694.18" font-size="10" fill="#f2eadc" text-anchor="middle" font-weight="bold">−</text>
<text x="112.80" y="695.58" font-size="11.0" fill="#000" stroke="#000" stroke-width="0.18" text-anchor="start">V</text>
<rect x="83.80" y="697.14" width="10.00" height="10.00" fill="#bcd6ea"/>
<text x="88.80" y="705.54" font-size="10" fill="#f2eadc" text-anchor="middle" font-weight="bold">−</text>
<rect x="95.10" y="697.14" width="10.00" height="10.00" fill="#a6c9e3"/>
<text x="100.10" y="705.54" font-size="10" fill="#f2eadc" text-anchor="middle" font-weight="bold">−</text>
<text x="112.80" y="706.94" font-size="11.0" fill="#000" stroke="#000" stroke-width="0.18" text-anchor="start">K</text>
<rect x="83.80" y="708.50" width="10.00" height="10.00" fill="#c0d8ea"/>
<text x="88.80" y="716.90" font-size="10" fill="#f2eadc" text-anchor="middle" font-weight="bold">−</text>
<rect x="95.10" y="708.50" width="10.00" height="10.00" fill="#fdfdfb"/>
<text x="112.80" y="718.30" font-size="11.0" fill="#000" stroke="#000" stroke-width="0.18" text-anchor="start">P</text>
<rect x="83.80" y="719.86" width="10.00" height="10.00" fill="#b4d0e7"/>
<text x="88.80" y="728.26" font-size="10" fill="#f2eadc" text-anchor="middle" font-weight="bold">−</text>
<rect x="95.10" y="719.86" width="10.00" height="10.00" fill="#b9d4e9"/>
<text x="100.10" y="728.26" font-size="10" fill="#f2eadc" text-anchor="middle" font-weight="bold">−</text>
<text x="112.80" y="729.66" font-size="11.0" fill="#000" stroke="#000" stroke-width="0.18" text-anchor="start">F</text>
<rect x="83.80" y="731.22" width="10.00" height="10.00" fill="#cfe0ef"/>
<text x="88.80" y="739.62" font-size="10" fill="#f2eadc" text-anchor="middle" font-weight="bold">−</text>
<rect x="95.10" y="731.22" width="10.00" height="10.00" fill="#a9cbe4"/>
<text x="100.10" y="739.62" font-size="10" fill="#f2eadc" text-anchor="middle" font-weight="bold">−</text>
<text x="112.80" y="741.02" font-size="11.0" fill="#000" stroke="#000" stroke-width="0.18" text-anchor="start">I</text>
<rect x="83.80" y="742.58" width="10.00" height="10.00" fill="#cfe0ef"/>
<text x="88.80" y="750.98" font-size="10" fill="#f2eadc" text-anchor="middle" font-weight="bold">−</text>
<rect x="95.10" y="742.58" width="10.00" height="10.00" fill="#fdfdfb"/>
<text x="112.80" y="752.38" font-size="11.0" fill="#000" stroke="#000" stroke-width="0.18" text-anchor="start">H</text>
<rect x="83.80" y="753.94" width="10.00" height="10.00" fill="#fdfdfb"/>
<rect x="95.10" y="753.94" width="10.00" height="10.00" fill="#f8e0e1"/>
<text x="100.10" y="762.34" font-size="10" fill="#f2eadc" text-anchor="middle" font-weight="bold">+</text>
<text x="112.80" y="763.74" font-size="11.0" fill="#000" stroke="#000" stroke-width="0.18" text-anchor="start">U</text>
<rect x="83.80" y="765.30" width="10.00" height="10.00" fill="#d5e4f0"/>
<text x="88.80" y="773.70" font-size="10" fill="#f2eadc" text-anchor="middle" font-weight="bold">−</text>
<rect x="95.10" y="765.30" width="10.00" height="10.00" fill="#d1e1ef"/>
<text x="100.10" y="773.70" font-size="10" fill="#f2eadc" text-anchor="middle" font-weight="bold">−</text>
<text x="112.80" y="775.10" font-size="11.0" fill="#000" stroke="#000" stroke-width="0.18" text-anchor="start">C</text>
<rect x="83.80" y="776.66" width="10.00" height="10.00" fill="#d5e4f0"/>
<text x="88.80" y="785.06" font-size="10" fill="#f2eadc" text-anchor="middle" font-weight="bold">−</text>
<rect x="95.10" y="776.66" width="10.00" height="10.00" fill="#fdfdfb"/>
<text x="112.80" y="786.46" font-size="11.0" fill="#000" stroke="#000" stroke-width="0.18" text-anchor="start">M</text>
<rect x="83.80" y="788.02" width="10.00" height="10.00" fill="#fdfdfb"/>
<rect x="95.10" y="788.02" width="10.00" height="10.00" fill="#f9e3e3"/>
<text x="100.10" y="796.42" font-size="10" fill="#f2eadc" text-anchor="middle" font-weight="bold">+</text>
<text x="112.80" y="797.82" font-size="11.0" fill="#000" stroke="#000" stroke-width="0.18" text-anchor="start">W</text>
<rect x="83.80" y="799.38" width="10.00" height="10.00" fill="#fdfdfb"/>
<rect x="95.10" y="799.38" width="10.00" height="10.00" fill="#c9ddee"/>
<text x="100.10" y="807.78" font-size="10" fill="#f2eadc" text-anchor="middle" font-weight="bold">−</text>
<text x="112.80" y="809.18" font-size="11.0" fill="#000" stroke="#000" stroke-width="0.18" text-anchor="start">O</text>
<rect x="83.80" y="810.74" width="10.00" height="10.00" fill="#fdfdfb"/>
<rect x="95.10" y="810.74" width="10.00" height="10.00" fill="#f9e3e3"/>
<text x="100.10" y="819.14" font-size="10" fill="#f2eadc" text-anchor="middle" font-weight="bold">+</text>
<text x="112.80" y="820.54" font-size="11.0" fill="#000" stroke="#000" stroke-width="0.18" text-anchor="start">L</text>
<rect x="83.80" y="822.10" width="10.00" height="10.00" fill="#dde9f3"/>
<text x="88.80" y="830.50" font-size="10" fill="#f2eadc" text-anchor="middle" font-weight="bold">−</text>
<rect x="95.10" y="822.10" width="10.00" height="10.00" fill="#fdfdfb"/>
<text x="112.80" y="831.90" font-size="11.0" fill="#000" stroke="#000" stroke-width="0.18" text-anchor="start">Z</text>
<text x="86.80" y="844.60" font-size="13.0" fill="#000" stroke="#000" stroke-width="0.18" text-anchor="end" transform="rotate(-46.5 86.80 844.60)">Terrestrial vs Marine</text>
<text x="106.20" y="844.60" font-size="13.0" fill="#000" stroke="#000" stroke-width="0.18" text-anchor="end" transform="rotate(-46.5 106.20 844.60)">Terrestrial vs Freshwater</text>
<text x="188.50" y="593.20" font-size="12.5" fill="#000" stroke="#000" stroke-width="0.18" text-anchor="start">d</text>
<rect x="188.40" y="625.70" width="13.50" height="5.34" fill="#e0929d"/>
<rect x="188.40" y="630.75" width="13.50" height="5.34" fill="#e297a1"/>
<rect x="188.40" y="635.79" width="13.50" height="5.34" fill="#e39ca5"/>
<rect x="188.40" y="640.84" width="13.50" height="5.34" fill="#e4a0a9"/>
<rect x="188.40" y="645.88" width="13.50" height="5.34" fill="#e6a5ad"/>
<rect x="188.40" y="650.93" width="13.50" height="5.34" fill="#e7a9b1"/>
<rect x="188.40" y="655.97" width="13.50" height="5.34" fill="#e9aeb5"/>
<rect x="188.40" y="661.01" width="13.50" height="5.34" fill="#eab3b9"/>
<rect x="188.40" y="666.06" width="13.50" height="5.34" fill="#ebb7bd"/>
<rect x="188.40" y="671.11" width="13.50" height="5.34" fill="#edbcc0"/>
<rect x="188.40" y="676.15" width="13.50" height="5.34" fill="#eec0c4"/>
<rect x="188.40" y="681.20" width="13.50" height="5.34" fill="#efc5c9"/>
<rect x="188.40" y="686.24" width="13.50" height="5.34" fill="#f1cacd"/>
<rect x="188.40" y="691.29" width="13.50" height="5.34" fill="#f2cfd2"/>
<rect x="188.40" y="696.33" width="13.50" height="5.34" fill="#f3d4d6"/>
<rect x="188.40" y="701.38" width="13.50" height="5.34" fill="#f5d9db"/>
<rect x="188.40" y="706.42" width="13.50" height="5.34" fill="#f6dedf"/>
<rect x="188.40" y="711.47" width="13.50" height="5.34" fill="#f7e3e4"/>
<rect x="188.40" y="716.51" width="13.50" height="5.34" fill="#f9e8e8"/>
<rect x="188.40" y="721.56" width="13.50" height="5.34" fill="#fefdfb"/>
<rect x="188.40" y="726.60" width="13.50" height="5.34" fill="#fefdfb"/>
<rect x="188.40" y="731.64" width="13.50" height="5.34" fill="#deeaf4"/>
<rect x="188.40" y="736.69" width="13.50" height="5.34" fill="#d6e6f1"/>
<rect x="188.40" y="741.74" width="13.50" height="5.34" fill="#cee0ee"/>
<rect x="188.40" y="746.78" width="13.50" height="5.34" fill="#c5dcec"/>
<rect x="188.40" y="751.83" width="13.50" height="5.34" fill="#bdd6e9"/>
<rect x="188.40" y="756.87" width="13.50" height="5.34" fill="#b4d2e6"/>
<rect x="188.40" y="761.91" width="13.50" height="5.34" fill="#accce4"/>
<rect x="188.40" y="766.96" width="13.50" height="5.34" fill="#a3c8e1"/>
<rect x="188.40" y="772.00" width="13.50" height="5.34" fill="#9bc2de"/>
<rect x="188.40" y="777.05" width="13.50" height="5.34" fill="#8fbddb"/>
<rect x="188.40" y="782.10" width="13.50" height="5.34" fill="#83b7d8"/>
<rect x="188.40" y="787.14" width="13.50" height="5.34" fill="#77b2d5"/>
<rect x="188.40" y="792.18" width="13.50" height="5.34" fill="#6bacd2"/>
<rect x="188.40" y="797.23" width="13.50" height="5.34" fill="#5fa7cf"/>
<rect x="188.40" y="802.27" width="13.50" height="5.34" fill="#4fa2cd"/>
<rect x="188.40" y="807.32" width="13.50" height="5.34" fill="#3e9eca"/>
<rect x="188.40" y="812.37" width="13.50" height="5.34" fill="#2d9ac7"/>
<rect x="188.40" y="817.41" width="13.50" height="5.34" fill="#1c96c5"/>
<rect x="188.40" y="822.46" width="13.50" height="5.04" fill="#0c91c2"/>
<text x="207.80" y="628.90" font-size="11.2" fill="#000" stroke="#000" stroke-width="0.18" text-anchor="start">20</text>
<text x="207.80" y="679.35" font-size="11.2" fill="#000" stroke="#000" stroke-width="0.18" text-anchor="start">10</text>
<text x="207.80" y="729.80" font-size="12.4" fill="#000" stroke="#000" stroke-width="0.18" text-anchor="start">0</text>
<text x="207.80" y="780.25" font-size="11.2" fill="#000" stroke="#000" stroke-width="0.18" text-anchor="start">−10</text>
<text x="207.80" y="830.70" font-size="11.2" fill="#000" stroke="#000" stroke-width="0.18" text-anchor="start">−20</text>
<text x="172.60" y="654.60" font-size="11.25" fill="#000" stroke="#000" stroke-width="0.18" text-anchor="start" transform="rotate(90 172.60 654.60)">−log(qval)*sign(coeff)</text>
<rect x="241.80" y="584.20" width="9.80" height="9.80" fill="#0c90c2"/>
<text x="246.70" y="592.50" font-size="10" fill="#f2eadc" text-anchor="middle" font-weight="bold">−</text>
<rect x="253.10" y="584.20" width="9.80" height="9.80" fill="#0c90c2"/>
<text x="258.00" y="592.50" font-size="10" fill="#f2eadc" text-anchor="middle" font-weight="bold">−</text>
<text x="270.40" y="593.90" font-size="11.1" fill="#000" stroke="#000" stroke-width="0.18" text-anchor="start">COG2229</text>
<rect x="241.80" y="595.59" width="9.80" height="9.80" fill="#0c90c2"/>
<text x="246.70" y="603.88" font-size="10" fill="#f2eadc" text-anchor="middle" font-weight="bold">−</text>
<rect x="253.10" y="595.59" width="9.80" height="9.80" fill="#3a9ac9"/>
<text x="258.00" y="603.88" font-size="10" fill="#f2eadc" text-anchor="middle" font-weight="bold">−</text>
<text x="270.40" y="605.28" font-size="11.1" fill="#000" stroke="#000" stroke-width="0.18" text-anchor="start">COG2018</text>
<rect x="241.80" y="606.97" width="9.80" height="9.80" fill="#e5939f"/>
<text x="246.70" y="615.27" font-size="10" fill="#f2eadc" text-anchor="middle" font-weight="bold">+</text>
<rect x="253.10" y="606.97" width="9.80" height="9.80" fill="#fdfdfb"/>
<text x="270.40" y="616.67" font-size="11.1" fill="#000" stroke="#000" stroke-width="0.18" text-anchor="start">COG1344</text>
<rect x="241.80" y="618.36" width="9.80" height="9.80" fill="#0c90c2"/>
<text x="246.70" y="626.65" font-size="10" fill="#f2eadc" text-anchor="middle" font-weight="bold">−</text>
<rect x="253.10" y="618.36" width="9.80" height="9.80" fill="#63a8d1"/>
<text x="258.00" y="626.65" font-size="10" fill="#f2eadc" text-anchor="middle" font-weight="bold">−</text>
<text x="270.40" y="628.05" font-size="11.1" fill="#000" stroke="#000" stroke-width="0.18" text-anchor="start">COG2310</text>
<rect x="241.80" y="629.74" width="9.80" height="9.80" fill="#0c90c2"/>
<text x="246.70" y="638.04" font-size="10" fill="#f2eadc" text-anchor="middle" font-weight="bold">−</text>
<rect x="253.10" y="629.74" width="9.80" height="9.80" fill="#3a9ac9"/>
<text x="258.00" y="638.04" font-size="10" fill="#f2eadc" text-anchor="middle" font-weight="bold">−</text>
<text x="270.40" y="639.44" font-size="11.1" fill="#000" stroke="#000" stroke-width="0.18" text-anchor="start">COG0821</text>
<rect x="241.80" y="641.12" width="9.80" height="9.80" fill="#2a95c6"/>
<text x="246.70" y="649.42" font-size="10" fill="#f2eadc" text-anchor="middle" font-weight="bold">−</text>
<rect x="253.10" y="641.12" width="9.80" height="9.80" fill="#63a8d1"/>
<text x="258.00" y="649.42" font-size="10" fill="#f2eadc" text-anchor="middle" font-weight="bold">−</text>
<text x="270.40" y="650.82" font-size="11.1" fill="#000" stroke="#000" stroke-width="0.18" text-anchor="start">COG0843</text>
<rect x="241.80" y="652.51" width="9.80" height="9.80" fill="#e8a0aa"/>
<text x="246.70" y="660.81" font-size="10" fill="#f2eadc" text-anchor="middle" font-weight="bold">+</text>
<rect x="253.10" y="652.51" width="9.80" height="9.80" fill="#fdfdfb"/>
<text x="270.40" y="662.21" font-size="11.1" fill="#000" stroke="#000" stroke-width="0.18" text-anchor="start">COG1943</text>
<rect x="241.80" y="663.89" width="9.80" height="9.80" fill="#7fb5d9"/>
<text x="246.70" y="672.19" font-size="10" fill="#f2eadc" text-anchor="middle" font-weight="bold">−</text>
<rect x="253.10" y="663.89" width="9.80" height="9.80" fill="#84b8da"/>
<text x="258.00" y="672.19" font-size="10" fill="#f2eadc" text-anchor="middle" font-weight="bold">−</text>
<text x="270.40" y="673.59" font-size="11.1" fill="#000" stroke="#000" stroke-width="0.18" text-anchor="start">COG1023</text>
<rect x="241.80" y="675.28" width="9.80" height="9.80" fill="#f0bcc3"/>
<text x="246.70" y="683.58" font-size="10" fill="#f2eadc" text-anchor="middle" font-weight="bold">+</text>
<rect x="253.10" y="675.28" width="9.80" height="9.80" fill="#fdfdfb"/>
<text x="270.40" y="684.98" font-size="11.1" fill="#000" stroke="#000" stroke-width="0.18" text-anchor="start">COG0437</text>
<rect x="241.80" y="686.67" width="9.80" height="9.80" fill="#84b8da"/>
<text x="246.70" y="694.97" font-size="10" fill="#f2eadc" text-anchor="middle" font-weight="bold">−</text>
<rect x="253.10" y="686.67" width="9.80" height="9.80" fill="#b5d1e8"/>
<text x="258.00" y="694.97" font-size="10" fill="#f2eadc" text-anchor="middle" font-weight="bold">−</text>
<text x="270.40" y="696.37" font-size="11.1" fill="#000" stroke="#000" stroke-width="0.18" text-anchor="start">COG4799</text>
<rect x="241.80" y="698.05" width="9.80" height="9.80" fill="#8fbddc"/>
<text x="246.70" y="706.35" font-size="10" fill="#f2eadc" text-anchor="middle" font-weight="bold">−</text>
<rect x="253.10" y="698.05" width="9.80" height="9.80" fill="#8fbddc"/>
<text x="258.00" y="706.35" font-size="10" fill="#f2eadc" text-anchor="middle" font-weight="bold">−</text>
<text x="270.40" y="707.75" font-size="11.1" fill="#000" stroke="#000" stroke-width="0.18" text-anchor="start">COG1134</text>
<rect x="241.80" y="709.44" width="9.80" height="9.80" fill="#7db4d8"/>
<text x="246.70" y="717.74" font-size="10" fill="#f2eadc" text-anchor="middle" font-weight="bold">−</text>
<rect x="253.10" y="709.44" width="9.80" height="9.80" fill="#a5c9e4"/>
<text x="258.00" y="717.74" font-size="10" fill="#f2eadc" text-anchor="middle" font-weight="bold">−</text>
<text x="270.40" y="719.13" font-size="11.1" fill="#000" stroke="#000" stroke-width="0.18" text-anchor="start">COG0366</text>
<rect x="241.80" y="720.82" width="9.80" height="9.80" fill="#f3c8cd"/>
<text x="246.70" y="729.12" font-size="10" fill="#f2eadc" text-anchor="middle" font-weight="bold">+</text>
<rect x="253.10" y="720.82" width="9.80" height="9.80" fill="#fdfdfb"/>
<text x="270.40" y="730.52" font-size="11.1" fill="#000" stroke="#000" stroke-width="0.18" text-anchor="start">COG0050</text>
<rect x="241.80" y="732.21" width="9.80" height="9.80" fill="#f3c8cd"/>
<text x="246.70" y="740.50" font-size="10" fill="#f2eadc" text-anchor="middle" font-weight="bold">+</text>
<rect x="253.10" y="732.21" width="9.80" height="9.80" fill="#fdfdfb"/>
<text x="270.40" y="741.90" font-size="11.1" fill="#000" stroke="#000" stroke-width="0.18" text-anchor="start">COG4992</text>
<rect x="241.80" y="743.59" width="9.80" height="9.80" fill="#7db4d8"/>
<text x="246.70" y="751.89" font-size="10" fill="#f2eadc" text-anchor="middle" font-weight="bold">−</text>
<rect x="253.10" y="743.59" width="9.80" height="9.80" fill="#b5d1e8"/>
<text x="258.00" y="751.89" font-size="10" fill="#f2eadc" text-anchor="middle" font-weight="bold">−</text>
<text x="270.40" y="753.29" font-size="11.1" fill="#000" stroke="#000" stroke-width="0.18" text-anchor="start">COG1131</text>
<rect x="241.80" y="754.98" width="9.80" height="9.80" fill="#86b9da"/>
<text x="246.70" y="763.27" font-size="10" fill="#f2eadc" text-anchor="middle" font-weight="bold">−</text>
<rect x="253.10" y="754.98" width="9.80" height="9.80" fill="#cfe0ef"/>
<text x="258.00" y="763.27" font-size="10" fill="#f2eadc" text-anchor="middle" font-weight="bold">−</text>
<text x="270.40" y="764.67" font-size="11.1" fill="#000" stroke="#000" stroke-width="0.18" text-anchor="start">COG1595</text>
<rect x="241.80" y="766.36" width="9.80" height="9.80" fill="#aacbe5"/>
<text x="246.70" y="774.66" font-size="10" fill="#f2eadc" text-anchor="middle" font-weight="bold">−</text>
<rect x="253.10" y="766.36" width="9.80" height="9.80" fill="#8fbddc"/>
<text x="258.00" y="774.66" font-size="10" fill="#f2eadc" text-anchor="middle" font-weight="bold">−</text>
<text x="270.40" y="776.06" font-size="11.1" fill="#000" stroke="#000" stroke-width="0.18" text-anchor="start">COG1309</text>
<rect x="241.80" y="777.75" width="9.80" height="9.80" fill="#f5d0d4"/>
<text x="246.70" y="786.04" font-size="10" fill="#f2eadc" text-anchor="middle" font-weight="bold">+</text>
<rect x="253.10" y="777.75" width="9.80" height="9.80" fill="#fdfdfb"/>
<text x="270.40" y="787.44" font-size="11.1" fill="#000" stroke="#000" stroke-width="0.18" text-anchor="start">COG2057</text>
<rect x="241.80" y="789.13" width="9.80" height="9.80" fill="#92bfdd"/>
<text x="246.70" y="797.43" font-size="10" fill="#f2eadc" text-anchor="middle" font-weight="bold">−</text>
<rect x="253.10" y="789.13" width="9.80" height="9.80" fill="#d2e2f0"/>
<text x="258.00" y="797.43" font-size="10" fill="#f2eadc" text-anchor="middle" font-weight="bold">−</text>
<text x="270.40" y="798.83" font-size="11.1" fill="#000" stroke="#000" stroke-width="0.18" text-anchor="start">COG1403</text>
<rect x="241.80" y="800.52" width="9.80" height="9.80" fill="#92bfdd"/>
<text x="246.70" y="808.82" font-size="10" fill="#f2eadc" text-anchor="middle" font-weight="bold">−</text>
<rect x="253.10" y="800.52" width="9.80" height="9.80" fill="#bdd6ea"/>
<text x="258.00" y="808.82" font-size="10" fill="#f2eadc" text-anchor="middle" font-weight="bold">−</text>
<text x="270.40" y="810.22" font-size="11.1" fill="#000" stroke="#000" stroke-width="0.18" text-anchor="start">COG0604</text>
<rect x="241.80" y="811.90" width="9.80" height="9.80" fill="#a9cbe4"/>
<text x="246.70" y="820.20" font-size="10" fill="#f2eadc" text-anchor="middle" font-weight="bold">−</text>
<rect x="253.10" y="811.90" width="9.80" height="9.80" fill="#fdfdfb"/>
<text x="270.40" y="821.60" font-size="11.1" fill="#000" stroke="#000" stroke-width="0.18" text-anchor="start">COG1028</text>
<rect x="241.80" y="823.29" width="9.80" height="9.80" fill="#fdfdfb"/>
<rect x="253.10" y="823.29" width="9.80" height="9.80" fill="#f5d0d4"/>
<text x="258.00" y="831.59" font-size="10" fill="#f2eadc" text-anchor="middle" font-weight="bold">+</text>
<text x="270.40" y="832.99" font-size="11.1" fill="#000" stroke="#000" stroke-width="0.18" text-anchor="start">COG3335</text>
<rect x="241.80" y="834.67" width="9.80" height="9.80" fill="#fdfdfb"/>
<rect x="253.10" y="834.67" width="9.80" height="9.80" fill="#f6d6d9"/>
<text x="258.00" y="842.97" font-size="10" fill="#f2eadc" text-anchor="middle" font-weight="bold">+</text>
<text x="270.40" y="844.37" font-size="11.1" fill="#000" stroke="#000" stroke-width="0.18" text-anchor="start">COG1348</text>
<rect x="241.80" y="846.06" width="9.80" height="9.80" fill="#f6d3d6"/>
<text x="246.70" y="854.36" font-size="10" fill="#f2eadc" text-anchor="middle" font-weight="bold">+</text>
<rect x="253.10" y="846.06" width="9.80" height="9.80" fill="#fdfdfb"/>
<text x="270.40" y="855.75" font-size="11.1" fill="#000" stroke="#000" stroke-width="0.18" text-anchor="start">COG2002</text>
<rect x="241.80" y="857.44" width="9.80" height="9.80" fill="#bfd7ea"/>
<text x="246.70" y="865.74" font-size="10" fill="#f2eadc" text-anchor="middle" font-weight="bold">−</text>
<rect x="253.10" y="857.44" width="9.80" height="9.80" fill="#fdfdfb"/>
<text x="270.40" y="867.14" font-size="11.1" fill="#000" stroke="#000" stroke-width="0.18" text-anchor="start">COG0183</text>
<text x="244.00" y="875.40" font-size="13.0" fill="#000" stroke="#000" stroke-width="0.18" text-anchor="end" transform="rotate(-46.5 244.00 875.40)">Terrestrial vs Marine</text>
<text x="269.50" y="873.80" font-size="13.0" fill="#000" stroke="#000" stroke-width="0.18" text-anchor="end" transform="rotate(-46.5 269.50 873.80)">Terrestrial vs Freshwater</text>
<text x="376.20" y="593.20" font-size="12.5" fill="#000" stroke="#000" stroke-width="0.18" text-anchor="start">e</text>
<rect x="392.00" y="628.25" width="13.70" height="17.04" fill="#e39ca5"/>
<rect x="392.00" y="645.19" width="13.70" height="17.04" fill="#ebb1b8"/>
<rect x="392.00" y="662.13" width="13.70" height="17.04" fill="#f0c4c8"/>
<rect x="392.00" y="679.07" width="13.70" height="17.04" fill="#f5d6d8"/>
<rect x="392.00" y="696.01" width="13.70" height="17.04" fill="#f9e8e7"/>
<rect x="392.00" y="712.95" width="13.70" height="17.04" fill="#dde7f3"/>
<rect x="392.00" y="729.89" width="13.70" height="17.04" fill="#b9d2e8"/>
<rect x="392.00" y="746.83" width="13.70" height="17.04" fill="#91bcdd"/>
<rect x="392.00" y="763.77" width="13.70" height="17.04" fill="#5fa4ce"/>
<rect x="392.00" y="780.71" width="13.70" height="17.04" fill="#0096c4"/>
<text x="411.00" y="648.34" font-size="11.2" fill="#000" stroke="#000" stroke-width="0.18" text-anchor="start">4</text>
<text x="411.00" y="682.22" font-size="11.2" fill="#000" stroke="#000" stroke-width="0.18" text-anchor="start">2</text>
<text x="411.00" y="716.10" font-size="11.2" fill="#000" stroke="#000" stroke-width="0.18" text-anchor="start">0</text>
<text x="411.00" y="749.98" font-size="11.2" fill="#000" stroke="#000" stroke-width="0.18" text-anchor="start">−2</text>
<text x="411.00" y="783.86" font-size="11.2" fill="#000" stroke="#000" stroke-width="0.18" text-anchor="start">−4</text>
<text x="378.00" y="652.50" font-size="11.25" fill="#000" stroke="#000" stroke-width="0.18" text-anchor="start" transform="rotate(90 378.00 652.50)">−log(qval)*sign(coeff)</text>
<rect x="441.90" y="597.60" width="9.90" height="9.70" fill="#7db3d9"/>
<text x="446.85" y="605.85" font-size="10" fill="#f2eadc" text-anchor="middle" font-weight="bold">−</text>
<rect x="453.60" y="597.60" width="9.90" height="9.70" fill="#e395a0"/>
<text x="458.55" y="605.85" font-size="10" fill="#f2eadc" text-anchor="middle" font-weight="bold">+</text>
<text x="471.10" y="607.25" font-size="11.0" fill="#000" stroke="#000" stroke-width="0.18" text-anchor="start">K</text>
<rect x="441.90" y="608.97" width="9.90" height="9.70" fill="#7db3d9"/>
<text x="446.85" y="617.22" font-size="10" fill="#f2eadc" text-anchor="middle" font-weight="bold">−</text>
<rect x="453.60" y="608.97" width="9.90" height="9.70" fill="#dde8f3"/>
<text x="471.10" y="618.62" font-size="11.0" fill="#000" stroke="#000" stroke-width="0.18" text-anchor="start">G</text>
<rect x="441.90" y="620.34" width="9.90" height="9.70" fill="#7db3d9"/>
<text x="446.85" y="628.59" font-size="10" fill="#f2eadc" text-anchor="middle" font-weight="bold">−</text>
<rect x="453.60" y="620.34" width="9.90" height="9.70" fill="#dde8f3"/>
<text x="471.10" y="629.99" font-size="11.0" fill="#000" stroke="#000" stroke-width="0.18" text-anchor="start">H</text>
<rect x="441.90" y="631.71" width="9.90" height="9.70" fill="#7db3d9"/>
<text x="446.85" y="639.96" font-size="10" fill="#f2eadc" text-anchor="middle" font-weight="bold">−</text>
<rect x="453.60" y="631.71" width="9.90" height="9.70" fill="#dde8f3"/>
<text x="471.10" y="641.36" font-size="11.0" fill="#000" stroke="#000" stroke-width="0.18" text-anchor="start">E</text>
<rect x="441.90" y="643.08" width="9.90" height="9.70" fill="#f0c1c6"/>
<text x="446.85" y="651.33" font-size="10" fill="#f2eadc" text-anchor="middle" font-weight="bold">+</text>
<rect x="453.60" y="643.08" width="9.90" height="9.70" fill="#dde8f3"/>
<text x="471.10" y="652.73" font-size="11.0" fill="#000" stroke="#000" stroke-width="0.18" text-anchor="start">Q</text>
<rect x="441.90" y="654.45" width="9.90" height="9.70" fill="#f0c1c6"/>
<text x="446.85" y="662.70" font-size="10" fill="#f2eadc" text-anchor="middle" font-weight="bold">+</text>
<rect x="453.60" y="654.45" width="9.90" height="9.70" fill="#f0c1c6"/>
<text x="458.55" y="662.70" font-size="10" fill="#f2eadc" text-anchor="middle" font-weight="bold">+</text>
<text x="471.10" y="664.10" font-size="11.0" fill="#000" stroke="#000" stroke-width="0.18" text-anchor="start">X</text>
<rect x="441.90" y="665.82" width="9.90" height="9.70" fill="#b7d2e8"/>
<text x="446.85" y="674.07" font-size="10" fill="#f2eadc" text-anchor="middle" font-weight="bold">−</text>
<rect x="453.60" y="665.82" width="9.90" height="9.70" fill="#f0c1c6"/>
<text x="458.55" y="674.07" font-size="10" fill="#f2eadc" text-anchor="middle" font-weight="bold">+</text>
<text x="471.10" y="675.47" font-size="11.0" fill="#000" stroke="#000" stroke-width="0.18" text-anchor="start">T</text>
<rect x="441.90" y="677.19" width="9.90" height="9.70" fill="#dde8f3"/>
<rect x="453.60" y="677.19" width="9.90" height="9.70" fill="#f0c1c6"/>
<text x="458.55" y="685.44" font-size="10" fill="#f2eadc" text-anchor="middle" font-weight="bold">+</text>
<text x="471.10" y="686.84" font-size="11.0" fill="#000" stroke="#000" stroke-width="0.18" text-anchor="start">U</text>
<rect x="441.90" y="688.56" width="9.90" height="9.70" fill="#7db3d9"/>
<text x="446.85" y="696.81" font-size="10" fill="#f2eadc" text-anchor="middle" font-weight="bold">−</text>
<rect x="453.60" y="688.56" width="9.90" height="9.70" fill="#b0cee6"/>
<text x="458.55" y="696.81" font-size="10" fill="#f2eadc" text-anchor="middle" font-weight="bold">−</text>
<text x="471.10" y="698.21" font-size="11.0" fill="#000" stroke="#000" stroke-width="0.18" text-anchor="start">N</text>
<rect x="441.90" y="699.93" width="9.90" height="9.70" fill="#dde8f3"/>
<rect x="453.60" y="699.93" width="9.90" height="9.70" fill="#f0c1c6"/>
<text x="458.55" y="708.18" font-size="10" fill="#f2eadc" text-anchor="middle" font-weight="bold">+</text>
<text x="471.10" y="709.58" font-size="11.0" fill="#000" stroke="#000" stroke-width="0.18" text-anchor="start">R</text>
<rect x="441.90" y="711.30" width="9.90" height="9.70" fill="#7db3d9"/>
<text x="446.85" y="719.55" font-size="10" fill="#f2eadc" text-anchor="middle" font-weight="bold">−</text>
<rect x="453.60" y="711.30" width="9.90" height="9.70" fill="#f6d8da"/>
<text x="458.55" y="719.55" font-size="10" fill="#f2eadc" text-anchor="middle" font-weight="bold">+</text>
<text x="471.10" y="720.95" font-size="11.0" fill="#000" stroke="#000" stroke-width="0.18" text-anchor="start">O</text>
<rect x="441.90" y="722.67" width="9.90" height="9.70" fill="#7db3d9"/>
<text x="446.85" y="730.92" font-size="10" fill="#f2eadc" text-anchor="middle" font-weight="bold">−</text>
<rect x="453.60" y="722.67" width="9.90" height="9.70" fill="#b0cee6"/>
<text x="458.55" y="730.92" font-size="10" fill="#f2eadc" text-anchor="middle" font-weight="bold">−</text>
<text x="471.10" y="732.32" font-size="11.0" fill="#000" stroke="#000" stroke-width="0.18" text-anchor="start">D</text>
<rect x="441.90" y="734.04" width="9.90" height="9.70" fill="#dde8f3"/>
<rect x="453.60" y="734.04" width="9.90" height="9.70" fill="#7db3d9"/>
<text x="458.55" y="742.29" font-size="10" fill="#f2eadc" text-anchor="middle" font-weight="bold">−</text>
<text x="471.10" y="743.69" font-size="11.0" fill="#000" stroke="#000" stroke-width="0.18" text-anchor="start">S</text>
<rect x="441.90" y="745.41" width="9.90" height="9.70" fill="#f0c1c6"/>
<text x="446.85" y="753.66" font-size="10" fill="#f2eadc" text-anchor="middle" font-weight="bold">+</text>
<rect x="453.60" y="745.41" width="9.90" height="9.70" fill="#f5d4d7"/>
<text x="458.55" y="753.66" font-size="10" fill="#f2eadc" text-anchor="middle" font-weight="bold">+</text>
<text x="471.10" y="755.06" font-size="11.0" fill="#000" stroke="#000" stroke-width="0.18" text-anchor="start">J</text>
<rect x="441.90" y="756.78" width="9.90" height="9.70" fill="#f5d4d7"/>
<text x="446.85" y="765.03" font-size="10" fill="#f2eadc" text-anchor="middle" font-weight="bold">+</text>
<rect x="453.60" y="756.78" width="9.90" height="9.70" fill="#dde8f3"/>
<text x="471.10" y="766.43" font-size="11.0" fill="#000" stroke="#000" stroke-width="0.18" text-anchor="start">C</text>
<rect x="441.90" y="768.15" width="9.90" height="9.70" fill="#dde8f3"/>
<rect x="453.60" y="768.15" width="9.90" height="9.70" fill="#b0cee6"/>
<text x="458.55" y="776.40" font-size="10" fill="#f2eadc" text-anchor="middle" font-weight="bold">−</text>
<text x="471.10" y="777.80" font-size="11.0" fill="#000" stroke="#000" stroke-width="0.18" text-anchor="start">L</text>
<rect x="441.90" y="779.52" width="9.90" height="9.70" fill="#f5d4d7"/>
<text x="446.85" y="787.77" font-size="10" fill="#f2eadc" text-anchor="middle" font-weight="bold">+</text>
<rect x="453.60" y="779.52" width="9.90" height="9.70" fill="#dde8f3"/>
<text x="471.10" y="789.17" font-size="11.0" fill="#000" stroke="#000" stroke-width="0.18" text-anchor="start">I</text>
<text x="447.80" y="798.80" font-size="13.25" fill="#000" stroke="#000" stroke-width="0.18" text-anchor="end" transform="rotate(-46.5 447.80 798.80)">Human vs Bird</text>
<text x="467.50" y="799.60" font-size="13.3" fill="#000" stroke="#000" stroke-width="0.18" text-anchor="end" transform="rotate(-46.5 467.50 799.60)">Human vs Plant</text>
<text x="540.50" y="593.50" font-size="12.5" fill="#000" stroke="#000" stroke-width="0.18" text-anchor="start">f</text>
<rect x="545.70" y="627.00" width="13.70" height="5.35" fill="#e0929d"/>
<rect x="545.70" y="632.05" width="13.70" height="5.35" fill="#e297a1"/>
<rect x="545.70" y="637.10" width="13.70" height="5.35" fill="#e39ca5"/>
<rect x="545.70" y="642.15" width="13.70" height="5.35" fill="#e4a0a9"/>
<rect x="545.70" y="647.20" width="13.70" height="5.35" fill="#e6a5ad"/>
<rect x="545.70" y="652.25" width="13.70" height="5.35" fill="#e7a9b1"/>
<rect x="545.70" y="657.30" width="13.70" height="5.35" fill="#e9aeb5"/>
<rect x="545.70" y="662.35" width="13.70" height="5.35" fill="#eab3b9"/>
<rect x="545.70" y="667.40" width="13.70" height="5.35" fill="#ebb7bd"/>
<rect x="545.70" y="672.45" width="13.70" height="5.35" fill="#edbcc0"/>
<rect x="545.70" y="677.50" width="13.70" height="5.35" fill="#eec0c4"/>
<rect x="545.70" y="682.55" width="13.70" height="5.35" fill="#efc5c9"/>
<rect x="545.70" y="687.60" width="13.70" height="5.35" fill="#f1cacd"/>
<rect x="545.70" y="692.65" width="13.70" height="5.35" fill="#f2cfd2"/>
<rect x="545.70" y="697.70" width="13.70" height="5.35" fill="#f3d4d6"/>
<rect x="545.70" y="702.75" width="13.70" height="5.35" fill="#f5d9db"/>
<rect x="545.70" y="707.80" width="13.70" height="5.35" fill="#f6dedf"/>
<rect x="545.70" y="712.85" width="13.70" height="5.35" fill="#f7e3e4"/>
<rect x="545.70" y="717.90" width="13.70" height="5.35" fill="#f9e8e8"/>
<rect x="545.70" y="722.95" width="13.70" height="5.35" fill="#fefdfb"/>
<rect x="545.70" y="728.00" width="13.70" height="5.35" fill="#fefdfb"/>
<rect x="545.70" y="733.05" width="13.70" height="5.35" fill="#deeaf4"/>
<rect x="545.70" y="738.10" width="13.70" height="5.35" fill="#d6e6f1"/>
<rect x="545.70" y="743.15" width="13.70" height="5.35" fill="#cee0ee"/>
<rect x="545.70" y="748.20" width="13.70" height="5.35" fill="#c5dcec"/>
<rect x="545.70" y="753.25" width="13.70" height="5.35" fill="#bdd6e9"/>
<rect x="545.70" y="758.30" width="13.70" height="5.35" fill="#b4d2e6"/>
<rect x="545.70" y="763.35" width="13.70" height="5.35" fill="#accce4"/>
<rect x="545.70" y="768.40" width="13.70" height="5.35" fill="#a3c8e1"/>
<rect x="545.70" y="773.45" width="13.70" height="5.35" fill="#9bc2de"/>
<rect x="545.70" y="778.50" width="13.70" height="5.35" fill="#8fbddb"/>
<rect x="545.70" y="783.55" width="13.70" height="5.35" fill="#83b7d8"/>
<rect x="545.70" y="788.60" width="13.70" height="5.35" fill="#77b2d5"/>
<rect x="545.70" y="793.65" width="13.70" height="5.35" fill="#6bacd2"/>
<rect x="545.70" y="798.70" width="13.70" height="5.35" fill="#5fa7cf"/>
<rect x="545.70" y="803.75" width="13.70" height="5.35" fill="#4fa2cd"/>
<rect x="545.70" y="808.80" width="13.70" height="5.35" fill="#3e9eca"/>
<rect x="545.70" y="813.85" width="13.70" height="5.35" fill="#2d9ac7"/>
<rect x="545.70" y="818.90" width="13.70" height="5.35" fill="#1c96c5"/>
<rect x="545.70" y="823.95" width="13.70" height="5.05" fill="#0c91c2"/>
<text x="565.00" y="630.20" font-size="11.2" fill="#000" stroke="#000" stroke-width="0.18" text-anchor="start">20</text>
<text x="565.00" y="680.70" font-size="11.2" fill="#000" stroke="#000" stroke-width="0.18" text-anchor="start">10</text>
<text x="565.00" y="731.20" font-size="12.4" fill="#000" stroke="#000" stroke-width="0.18" text-anchor="start">0</text>
<text x="565.00" y="781.70" font-size="11.2" fill="#000" stroke="#000" stroke-width="0.18" text-anchor="start">−10</text>
<text x="565.00" y="832.20" font-size="11.2" fill="#000" stroke="#000" stroke-width="0.18" text-anchor="start">−20</text>
<text x="529.30" y="656.00" font-size="11.25" fill="#000" stroke="#000" stroke-width="0.18" text-anchor="start" transform="rotate(90 529.30 656.00)">−log(qval)*sign(coeff)</text>
<rect x="598.00" y="586.90" width="9.90" height="9.90" fill="#e594a1"/>
<text x="602.95" y="595.25" font-size="10" fill="#f2eadc" text-anchor="middle" font-weight="bold">+</text>
<rect x="609.60" y="586.90" width="9.90" height="9.90" fill="#fdfdfb"/>
<text x="627.20" y="596.65" font-size="11.1" fill="#000" stroke="#000" stroke-width="0.18" text-anchor="start">COG0304</text>
<rect x="598.00" y="598.27" width="9.90" height="9.90" fill="#e594a1"/>
<text x="602.95" y="606.62" font-size="10" fill="#f2eadc" text-anchor="middle" font-weight="bold">+</text>
<rect x="609.60" y="598.27" width="9.90" height="9.90" fill="#fdfdfb"/>
<text x="627.20" y="608.02" font-size="11.1" fill="#000" stroke="#000" stroke-width="0.18" text-anchor="start">COG1463</text>
<rect x="598.00" y="609.64" width="9.90" height="9.90" fill="#eaa6b0"/>
<text x="602.95" y="617.99" font-size="10" fill="#f2eadc" text-anchor="middle" font-weight="bold">+</text>
<rect x="609.60" y="609.64" width="9.90" height="9.90" fill="#fdfdfb"/>
<text x="627.20" y="619.39" font-size="11.1" fill="#000" stroke="#000" stroke-width="0.18" text-anchor="start">COG1143</text>
<rect x="598.00" y="621.01" width="9.90" height="9.90" fill="#fdfdfb"/>
<rect x="609.60" y="621.01" width="9.90" height="9.90" fill="#ecafb7"/>
<text x="614.55" y="629.36" font-size="10" fill="#f2eadc" text-anchor="middle" font-weight="bold">+</text>
<text x="627.20" y="630.76" font-size="11.1" fill="#000" stroke="#000" stroke-width="0.18" text-anchor="start">COG1278</text>
<rect x="598.00" y="632.38" width="9.90" height="9.90" fill="#ebabb4"/>
<text x="602.95" y="640.73" font-size="10" fill="#f2eadc" text-anchor="middle" font-weight="bold">+</text>
<rect x="609.60" y="632.38" width="9.90" height="9.90" fill="#fdfdfb"/>
<text x="627.20" y="642.13" font-size="11.1" fill="#000" stroke="#000" stroke-width="0.18" text-anchor="start">COG3108</text>
<rect x="598.00" y="643.75" width="9.90" height="9.90" fill="#ecafb7"/>
<text x="602.95" y="652.10" font-size="10" fill="#f2eadc" text-anchor="middle" font-weight="bold">+</text>
<rect x="609.60" y="643.75" width="9.90" height="9.90" fill="#fdfdfb"/>
<text x="627.20" y="653.50" font-size="11.1" fill="#000" stroke="#000" stroke-width="0.18" text-anchor="start">COG0677</text>
<rect x="598.00" y="655.12" width="9.90" height="9.90" fill="#ecafb7"/>
<text x="602.95" y="663.47" font-size="10" fill="#f2eadc" text-anchor="middle" font-weight="bold">+</text>
<rect x="609.60" y="655.12" width="9.90" height="9.90" fill="#fdfdfb"/>
<text x="627.20" y="664.87" font-size="11.1" fill="#000" stroke="#000" stroke-width="0.18" text-anchor="start">COG3422</text>
<rect x="598.00" y="666.49" width="9.90" height="9.90" fill="#efb9c0"/>
<text x="602.95" y="674.84" font-size="10" fill="#f2eadc" text-anchor="middle" font-weight="bold">+</text>
<rect x="609.60" y="666.49" width="9.90" height="9.90" fill="#fdfdfb"/>
<text x="627.20" y="676.24" font-size="11.1" fill="#000" stroke="#000" stroke-width="0.18" text-anchor="start">COG3251</text>
<rect x="598.00" y="677.86" width="9.90" height="9.90" fill="#fdfdfb"/>
<rect x="609.60" y="677.86" width="9.90" height="9.90" fill="#f2c5ca"/>
<text x="614.55" y="686.21" font-size="10" fill="#f2eadc" text-anchor="middle" font-weight="bold">+</text>
<text x="627.20" y="687.61" font-size="11.1" fill="#000" stroke="#000" stroke-width="0.18" text-anchor="start">COG3385</text>
<rect x="598.00" y="689.23" width="9.90" height="9.90" fill="#f3cacf"/>
<text x="602.95" y="697.58" font-size="10" fill="#f2eadc" text-anchor="middle" font-weight="bold">+</text>
<rect x="609.60" y="689.23" width="9.90" height="9.90" fill="#fdfdfb"/>
<text x="627.20" y="698.98" font-size="11.1" fill="#000" stroke="#000" stroke-width="0.18" text-anchor="start">COG3547</text>
<rect x="598.00" y="700.60" width="9.90" height="9.90" fill="#f4ced2"/>
<text x="602.95" y="708.95" font-size="10" fill="#f2eadc" text-anchor="middle" font-weight="bold">+</text>
<rect x="609.60" y="700.60" width="9.90" height="9.90" fill="#fdfdfb"/>
<text x="627.20" y="710.35" font-size="11.1" fill="#000" stroke="#000" stroke-width="0.18" text-anchor="start">COG0280</text>
<rect x="598.00" y="711.97" width="9.90" height="9.90" fill="#f4ced2"/>
<text x="602.95" y="720.32" font-size="10" fill="#f2eadc" text-anchor="middle" font-weight="bold">+</text>
<rect x="609.60" y="711.97" width="9.90" height="9.90" fill="#fdfdfb"/>
<text x="627.20" y="721.72" font-size="11.1" fill="#000" stroke="#000" stroke-width="0.18" text-anchor="start">COG0286</text>
<rect x="598.00" y="723.34" width="9.90" height="9.90" fill="#fdfdfb"/>
<rect x="609.60" y="723.34" width="9.90" height="9.90" fill="#f5d2d6"/>
<text x="614.55" y="731.69" font-size="10" fill="#f2eadc" text-anchor="middle" font-weight="bold">+</text>
<text x="627.20" y="733.09" font-size="11.1" fill="#000" stroke="#000" stroke-width="0.18" text-anchor="start">COG0234</text>
<rect x="598.00" y="734.71" width="9.90" height="9.90" fill="#fdfdfb"/>
<rect x="609.60" y="734.71" width="9.90" height="9.90" fill="#f5d4d7"/>
<text x="614.55" y="743.06" font-size="10" fill="#f2eadc" text-anchor="middle" font-weight="bold">+</text>
<text x="627.20" y="744.46" font-size="11.1" fill="#000" stroke="#000" stroke-width="0.18" text-anchor="start">COG4104</text>
<rect x="598.00" y="746.08" width="9.90" height="9.90" fill="#fdfdfb"/>
<rect x="609.60" y="746.08" width="9.90" height="9.90" fill="#f5d4d7"/>
<text x="614.55" y="754.43" font-size="10" fill="#f2eadc" text-anchor="middle" font-weight="bold">+</text>
<text x="627.20" y="755.83" font-size="11.1" fill="#000" stroke="#000" stroke-width="0.18" text-anchor="start">COG4598</text>
<rect x="598.00" y="757.45" width="9.90" height="9.90" fill="#fdfdfb"/>
<rect x="609.60" y="757.45" width="9.90" height="9.90" fill="#f5d4d7"/>
<text x="614.55" y="765.80" font-size="10" fill="#f2eadc" text-anchor="middle" font-weight="bold">+</text>
<text x="627.20" y="767.20" font-size="11.1" fill="#000" stroke="#000" stroke-width="0.18" text-anchor="start">COG1012</text>
<rect x="598.00" y="768.82" width="9.90" height="9.90" fill="#fdfdfb"/>
<rect x="609.60" y="768.82" width="9.90" height="9.90" fill="#f5d4d7"/>
<text x="614.55" y="777.17" font-size="10" fill="#f2eadc" text-anchor="middle" font-weight="bold">+</text>
<text x="627.20" y="778.57" font-size="11.1" fill="#000" stroke="#000" stroke-width="0.18" text-anchor="start">COG0459</text>
<rect x="598.00" y="780.19" width="9.90" height="9.90" fill="#f6d9db"/>
<text x="602.95" y="788.54" font-size="10" fill="#f2eadc" text-anchor="middle" font-weight="bold">+</text>
<rect x="609.60" y="780.19" width="9.90" height="9.90" fill="#fdfdfb"/>
<text x="627.20" y="789.94" font-size="11.1" fill="#000" stroke="#000" stroke-width="0.18" text-anchor="start">COG3328</text>
<rect x="598.00" y="791.56" width="9.90" height="9.90" fill="#f6d9db"/>
<text x="602.95" y="799.91" font-size="10" fill="#f2eadc" text-anchor="middle" font-weight="bold">+</text>
<rect x="609.60" y="791.56" width="9.90" height="9.90" fill="#fdfdfb"/>
<text x="627.20" y="801.31" font-size="11.1" fill="#000" stroke="#000" stroke-width="0.18" text-anchor="start">COG2351</text>
<rect x="598.00" y="802.93" width="9.90" height="9.90" fill="#f6d9db"/>
<text x="602.95" y="811.28" font-size="10" fill="#f2eadc" text-anchor="middle" font-weight="bold">+</text>
<rect x="609.60" y="802.93" width="9.90" height="9.90" fill="#fdfdfb"/>
<text x="627.20" y="812.68" font-size="11.1" fill="#000" stroke="#000" stroke-width="0.18" text-anchor="start">COG1028</text>
<rect x="598.00" y="814.30" width="9.90" height="9.90" fill="#f6d9db"/>
<text x="602.95" y="822.65" font-size="10" fill="#f2eadc" text-anchor="middle" font-weight="bold">+</text>
<rect x="609.60" y="814.30" width="9.90" height="9.90" fill="#fdfdfb"/>
<text x="627.20" y="824.05" font-size="11.1" fill="#000" stroke="#000" stroke-width="0.18" text-anchor="start">COG3193</text>
<rect x="598.00" y="825.67" width="9.90" height="9.90" fill="#f7dcde"/>
<text x="602.95" y="834.02" font-size="10" fill="#f2eadc" text-anchor="middle" font-weight="bold">+</text>
<rect x="609.60" y="825.67" width="9.90" height="9.90" fill="#fdfdfb"/>
<text x="627.20" y="835.42" font-size="11.1" fill="#000" stroke="#000" stroke-width="0.18" text-anchor="start">COG5519</text>
<rect x="598.00" y="837.04" width="9.90" height="9.90" fill="#f7dcde"/>
<text x="602.95" y="845.39" font-size="10" fill="#f2eadc" text-anchor="middle" font-weight="bold">+</text>
<rect x="609.60" y="837.04" width="9.90" height="9.90" fill="#fdfdfb"/>
<text x="627.20" y="846.79" font-size="11.1" fill="#000" stroke="#000" stroke-width="0.18" text-anchor="start">COG1783</text>
<rect x="598.00" y="848.41" width="9.90" height="9.90" fill="#f7dcde"/>
<text x="602.95" y="856.76" font-size="10" fill="#f2eadc" text-anchor="middle" font-weight="bold">+</text>
<rect x="609.60" y="848.41" width="9.90" height="9.90" fill="#fdfdfb"/>
<text x="627.20" y="858.16" font-size="11.1" fill="#000" stroke="#000" stroke-width="0.18" text-anchor="start">COG2974</text>
<rect x="598.00" y="859.78" width="9.90" height="9.90" fill="#f7dcde"/>
<text x="602.95" y="868.13" font-size="10" fill="#f2eadc" text-anchor="middle" font-weight="bold">+</text>
<rect x="609.60" y="859.78" width="9.90" height="9.90" fill="#fdfdfb"/>
<text x="627.20" y="869.53" font-size="11.1" fill="#000" stroke="#000" stroke-width="0.18" text-anchor="start">COG5377</text>
<text x="602.80" y="878.50" font-size="13.25" fill="#000" stroke="#000" stroke-width="0.18" text-anchor="end" transform="rotate(-46.5 602.80 878.50)">Human vs Bird</text>
<text x="622.00" y="880.50" font-size="13.3" fill="#000" stroke="#000" stroke-width="0.18" text-anchor="end" transform="rotate(-46.5 622.00 880.50)">Human vs Plant</text>
</svg></body></html>
